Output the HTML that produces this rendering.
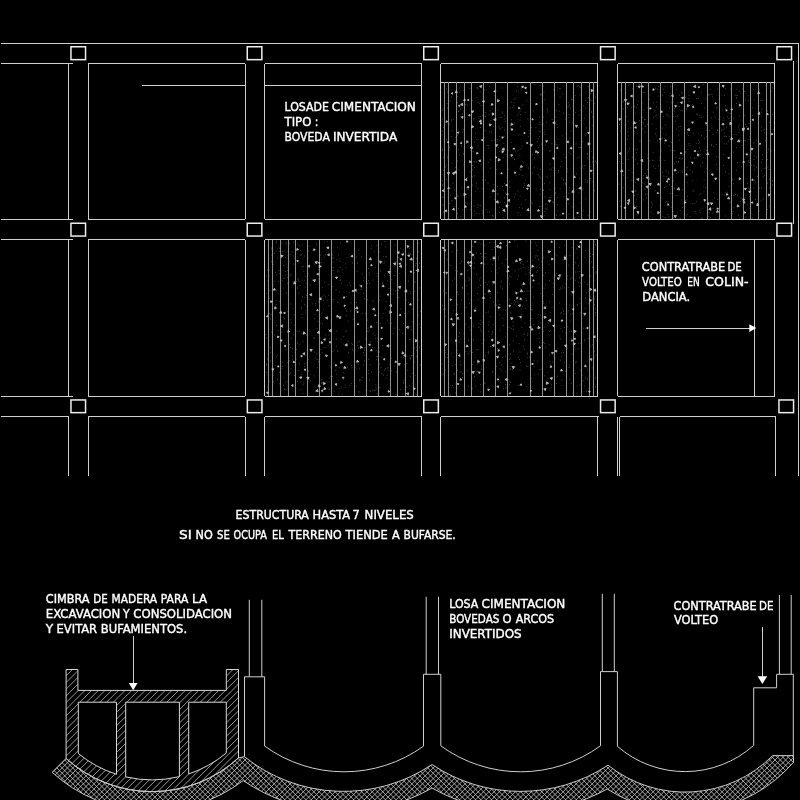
<!DOCTYPE html>
<html lang="es"><head><meta charset="utf-8"><title>Losa de cimentacion - boveda invertida</title>
<style>
html,body{margin:0;padding:0;background:#000;}
body{width:800px;height:800px;overflow:hidden;}
svg{display:block;}
line.l,line.h{shape-rendering:crispEdges;}
.l{stroke:#cfcfcf;stroke-width:1;fill:none;}
.h{stroke:#8e8e8e;stroke-width:1;fill:none;}
.sq{stroke:#ededed;stroke-width:1.5;fill:none;}
.tri{fill:#999;stroke:#e8e8e8;stroke-width:.6;}
.dot{stroke:#7c7c7c;stroke-width:.7;fill:none;}
.ah{fill:#fff;stroke:none;}
.wood{fill:none;stroke:#d8d8d8;stroke-width:1;}
.hw{stroke:#b0b0b0;stroke-width:.85;fill:none;}
.hs{stroke:#c8c8c8;stroke-width:.8;fill:none;}
.soil{fill:none;stroke:#c8c8c8;stroke-width:1;}
text{font-family:"DejaVu Sans Condensed","Liberation Sans",sans-serif;font-size:13px;fill:#fff;stroke:#fff;stroke-width:.4;}
</style></head><body>
<svg width="800" height="800" viewBox="0 0 800 800">
<rect width="800" height="800" fill="#000"/>
<line class="l" x1="1" y1="43.5" x2="798.75" y2="43.5"/>
<line class="l" x1="798.75" y1="43.5" x2="798.75" y2="476"/>
<line class="l" x1="1" y1="63.5" x2="73" y2="63.5"/>
<line class="l" x1="88" y1="63.5" x2="245" y2="63.5"/>
<line class="l" x1="264.5" y1="63.5" x2="421.5" y2="63.5"/>
<line class="l" x1="440.5" y1="63.5" x2="597.5" y2="63.5"/>
<line class="l" x1="617.5" y1="63.5" x2="774.75" y2="63.5"/>
<line class="l" x1="1" y1="219.4" x2="73" y2="219.4"/>
<line class="l" x1="88" y1="219.4" x2="245" y2="219.4"/>
<line class="l" x1="264.5" y1="219.4" x2="421.5" y2="219.4"/>
<line class="l" x1="440.5" y1="219.4" x2="597.5" y2="219.4"/>
<line class="l" x1="617.5" y1="219.4" x2="774.75" y2="219.4"/>
<line class="l" x1="1" y1="239.5" x2="73" y2="239.5"/>
<line class="l" x1="88" y1="239.5" x2="245" y2="239.5"/>
<line class="l" x1="264.5" y1="239.5" x2="421.5" y2="239.5"/>
<line class="l" x1="440.5" y1="239.5" x2="597.5" y2="239.5"/>
<line class="l" x1="617.5" y1="239.5" x2="774.75" y2="239.5"/>
<line class="l" x1="1" y1="396.4" x2="73" y2="396.4"/>
<line class="l" x1="88" y1="396.4" x2="245" y2="396.4"/>
<line class="l" x1="264.5" y1="396.4" x2="421.5" y2="396.4"/>
<line class="l" x1="440.5" y1="396.4" x2="597.5" y2="396.4"/>
<line class="l" x1="617.5" y1="396.4" x2="774.75" y2="396.4"/>
<line class="l" x1="1" y1="416.5" x2="69" y2="416.5"/>
<line class="l" x1="88" y1="416.5" x2="245" y2="416.5"/>
<line class="l" x1="264.5" y1="416.5" x2="421.5" y2="416.5"/>
<line class="l" x1="440.5" y1="416.5" x2="598.5" y2="416.5"/>
<line class="l" x1="619.5" y1="416.5" x2="775.6" y2="416.5"/>
<line class="l" x1="68.5" y1="63.5" x2="68.5" y2="219.4"/>
<line class="l" x1="68.5" y1="239.5" x2="68.5" y2="396.4"/>
<line class="l" x1="68.5" y1="416.5" x2="68.5" y2="475.8"/>
<line class="l" x1="88" y1="63.5" x2="88" y2="219.4"/>
<line class="l" x1="88" y1="239.5" x2="88" y2="396.4"/>
<line class="l" x1="88" y1="416.5" x2="88" y2="475.8"/>
<line class="l" x1="245" y1="63.5" x2="245" y2="219.4"/>
<line class="l" x1="245" y1="239.5" x2="245" y2="396.4"/>
<line class="l" x1="245" y1="416.5" x2="245" y2="475.8"/>
<line class="l" x1="264.5" y1="63.5" x2="264.5" y2="219.4"/>
<line class="l" x1="264.5" y1="239.5" x2="264.5" y2="396.4"/>
<line class="l" x1="264.5" y1="416.5" x2="264.5" y2="475.8"/>
<line class="l" x1="421.5" y1="63.5" x2="421.5" y2="219.4"/>
<line class="l" x1="421.5" y1="239.5" x2="421.5" y2="396.4"/>
<line class="l" x1="421.5" y1="416.5" x2="421.5" y2="475.8"/>
<line class="l" x1="440.5" y1="63.5" x2="440.5" y2="219.4"/>
<line class="l" x1="440.5" y1="239.5" x2="440.5" y2="396.4"/>
<line class="l" x1="440.5" y1="416.5" x2="440.5" y2="475.8"/>
<line class="l" x1="597.5" y1="63.5" x2="597.5" y2="219.4"/>
<line class="l" x1="597.5" y1="239.5" x2="597.5" y2="396.4"/>
<line class="l" x1="597.5" y1="416.5" x2="597.5" y2="475.8"/>
<line class="l" x1="617.5" y1="63.5" x2="617.5" y2="219.4"/>
<line class="l" x1="617.5" y1="239.5" x2="617.5" y2="396.4"/>
<line class="l" x1="617.5" y1="416.5" x2="617.5" y2="475.8"/>
<line class="l" x1="774.75" y1="63.5" x2="774.75" y2="219.4"/>
<line class="l" x1="774.75" y1="239.5" x2="774.75" y2="396.4"/>
<line class="l" x1="619.5" y1="416.5" x2="619.5" y2="475.8"/>
<line class="l" x1="775.6" y1="416.5" x2="775.6" y2="476"/>
<line class="l" x1="793.75" y1="61" x2="793.75" y2="223.5"/>
<line class="l" x1="754.4" y1="239.5" x2="754.4" y2="396.4"/>
<line class="l" x1="142" y1="85.8" x2="245" y2="85.8"/>
<line class="l" x1="264.5" y1="85.8" x2="421.5" y2="85.8"/>
<rect class="sq" x="70.95" y="46.75" width="14.6" height="12.9"/>
<rect class="sq" x="247.25" y="46.75" width="14.6" height="12.9"/>
<rect class="sq" x="423.75" y="46.75" width="14.6" height="12.9"/>
<rect class="sq" x="600.55" y="46.75" width="14.6" height="12.9"/>
<rect class="sq" x="776.95" y="46.75" width="14.6" height="12.9"/>
<rect class="sq" x="70.95" y="223.25" width="14.6" height="12.8"/>
<rect class="sq" x="247.25" y="223.25" width="14.6" height="12.8"/>
<rect class="sq" x="423.75" y="223.25" width="14.6" height="12.8"/>
<rect class="sq" x="600.55" y="223.25" width="14.6" height="12.8"/>
<rect class="sq" x="776.95" y="223.25" width="14.6" height="12.8"/>
<rect class="sq" x="70.95" y="399.95" width="14.6" height="12.7"/>
<rect class="sq" x="247.35" y="399.95" width="14.6" height="12.7"/>
<rect class="sq" x="423.75" y="399.95" width="14.6" height="12.7"/>
<rect class="sq" x="600.55" y="399.95" width="14.6" height="12.7"/>
<rect class="sq" x="778.95" y="399.95" width="14.6" height="12.7"/>
<line class="l" x1="440.5" y1="82.4" x2="597.5" y2="82.4"/>
<line class="l" x1="617.5" y1="82.4" x2="774.75" y2="82.4"/>
<line class="h" x1="444.5" y1="82.4" x2="444.5" y2="219.4"/>
<line class="h" x1="448.5" y1="82.4" x2="448.5" y2="219.4"/>
<line class="h" x1="456.5" y1="82.4" x2="456.5" y2="219.4"/>
<line class="h" x1="464.5" y1="82.4" x2="464.5" y2="219.4"/>
<line class="h" x1="471.8" y1="82.4" x2="471.8" y2="219.4"/>
<line class="h" x1="483.7" y1="82.4" x2="483.7" y2="219.4"/>
<line class="h" x1="495.5" y1="82.4" x2="495.5" y2="219.4"/>
<line class="h" x1="507.8" y1="82.4" x2="507.8" y2="219.4"/>
<line class="h" x1="530.2" y1="82.4" x2="530.2" y2="219.4"/>
<line class="h" x1="542.3" y1="82.4" x2="542.3" y2="219.4"/>
<line class="h" x1="554.3" y1="82.4" x2="554.3" y2="219.4"/>
<line class="h" x1="566.2" y1="82.4" x2="566.2" y2="219.4"/>
<line class="h" x1="573.5" y1="82.4" x2="573.5" y2="219.4"/>
<line class="h" x1="581.5" y1="82.4" x2="581.5" y2="219.4"/>
<line class="h" x1="589.5" y1="82.4" x2="589.5" y2="219.4"/>
<line class="h" x1="593.5" y1="82.4" x2="593.5" y2="219.4"/>
<g class="tri"><polygon points="493.2,105.0 491.0,105.2 492.0,103.2"/><polygon points="523.6,133.0 525.0,132.2 524.9,133.9"/><polygon points="449.0,142.6 447.4,142.5 448.3,141.1"/><polygon points="507.6,195.3 506.5,194.0 508.2,193.7"/><polygon points="537.5,211.2 538.3,209.2 539.6,210.9"/><polygon points="591.5,92.0 590.9,89.6 593.2,90.2"/><polygon points="465.0,99.1 465.2,100.9 463.5,100.2"/><polygon points="469.3,162.7 469.8,160.5 471.4,162.1"/><polygon points="526.6,93.7 525.4,92.5 527.0,92.1"/><polygon points="545.7,140.7 547.6,140.7 546.6,142.4"/><polygon points="511.4,123.0 513.2,124.5 510.9,125.3"/><polygon points="480.7,159.9 480.2,162.0 478.7,160.5"/><polygon points="555.2,123.7 552.7,123.1 554.4,121.2"/><polygon points="505.5,185.2 506.9,184.2 507.0,185.9"/><polygon points="447.3,172.7 449.6,172.5 448.6,174.6"/><polygon points="575.4,125.4 577.6,125.5 576.4,127.4"/><polygon points="532.5,144.6 531.0,146.5 530.1,144.2"/><polygon points="514.8,171.8 516.0,172.9 514.4,173.4"/><polygon points="541.2,217.8 540.5,215.5 542.8,216.1"/><polygon points="500.6,173.5 501.8,172.5 502.2,174.0"/><polygon points="468.3,99.0 469.0,100.5 467.4,100.3"/><polygon points="463.1,116.5 462.6,118.4 461.2,117.1"/><polygon points="455.7,143.3 455.1,145.3 453.7,143.8"/><polygon points="566.9,199.9 567.8,198.2 568.8,199.8"/><polygon points="498.3,203.2 495.9,202.1 498.0,200.7"/><polygon points="468.4,115.3 469.9,114.3 470.1,116.1"/><polygon points="531.8,119.8 532.6,118.4 533.4,119.8"/><polygon points="498.5,158.4 500.5,159.9 498.1,160.9"/><polygon points="522.6,167.0 520.4,167.4 521.1,165.3"/><polygon points="580.5,186.8 581.1,189.2 578.7,188.5"/><polygon points="501.9,136.7 503.5,137.3 502.2,138.4"/><polygon points="452.6,94.2 451.0,93.4 452.5,92.5"/><polygon points="495.1,92.1 493.6,91.5 494.9,90.6"/><polygon points="458.7,132.1 458.3,133.6 457.1,132.5"/><polygon points="535.8,105.0 536.0,103.2 537.5,104.2"/><polygon points="499.6,100.7 497.6,102.0 497.5,99.6"/><polygon points="514.6,149.3 512.9,149.1 513.9,147.8"/><polygon points="495.7,120.8 493.5,119.7 495.6,118.4"/><polygon points="446.8,211.8 444.8,211.0 446.5,209.8"/><polygon points="526.8,87.8 525.1,89.1 524.9,87.0"/><polygon points="573.9,177.8 574.3,176.0 575.6,177.2"/><polygon points="468.3,185.9 469.0,187.9 466.9,187.5"/><polygon points="494.3,113.9 492.4,115.3 492.1,112.9"/><polygon points="572.9,190.2 574.2,192.2 571.8,192.4"/><polygon points="478.3,153.4 476.5,154.1 476.8,152.2"/><polygon points="446.4,120.6 447.8,121.7 446.1,122.4"/><polygon points="590.3,143.8 588.2,145.2 588.0,142.7"/><polygon points="588.8,133.9 587.7,132.5 589.4,132.3"/><polygon points="473.6,110.8 472.7,112.8 471.4,111.1"/><polygon points="571.5,146.9 572.0,149.1 569.8,148.4"/><polygon points="455.8,170.8 456.6,173.2 454.1,172.7"/><polygon points="557.5,147.0 558.0,148.7 556.3,148.3"/><polygon points="492.2,191.8 493.2,189.4 494.7,191.5"/><polygon points="504.6,211.5 502.6,210.3 504.6,209.2"/><polygon points="462.4,103.1 462.9,105.6 460.5,104.7"/><polygon points="464.0,193.1 466.4,194.2 464.2,195.7"/><polygon points="497.1,157.5 495.5,158.2 495.7,156.5"/><polygon points="592.2,170.3 590.9,172.0 590.1,170.1"/><polygon points="509.2,201.7 507.5,200.0 509.9,199.4"/><polygon points="480.1,122.8 481.9,122.9 481.0,124.4"/><polygon points="483.0,139.6 482.2,141.1 481.3,139.7"/><polygon points="497.7,144.6 496.7,146.6 495.5,144.8"/><polygon points="505.7,206.2 507.6,205.6 507.2,207.6"/><polygon points="523.1,88.0 521.4,86.8 523.3,85.9"/><polygon points="442.1,190.9 443.5,189.7 443.7,191.5"/><polygon points="552.4,158.3 554.1,157.5 553.9,159.4"/><polygon points="526.6,188.4 528.2,188.1 527.6,189.7"/><polygon points="479.2,121.2 481.3,120.1 481.1,122.4"/><polygon points="527.1,186.0 528.7,184.1 529.6,186.4"/><polygon points="535.8,150.5 537.4,151.8 535.5,152.6"/><polygon points="512.8,154.9 511.5,156.5 510.8,154.6"/><polygon points="549.4,202.4 548.3,200.2 550.8,200.3"/><polygon points="529.0,210.9 526.7,210.1 528.6,208.5"/><polygon points="461.2,144.1 460.3,142.8 461.9,142.7"/><polygon points="454.8,172.6 453.9,174.8 452.4,172.9"/><polygon points="466.9,180.7 464.8,179.8 466.6,178.4"/><polygon points="578.6,212.8 577.3,214.1 576.8,212.4"/><polygon points="504.2,147.9 504.2,150.5 501.9,149.2"/><polygon points="466.6,142.8 466.6,140.7 468.4,141.8"/><polygon points="473.8,126.9 471.6,127.8 471.9,125.5"/><polygon points="526.8,143.8 526.8,142.2 528.2,143.0"/><polygon points="538.9,152.4 537.6,153.4 537.4,151.8"/><polygon points="563.0,214.6 562.3,213.1 564.0,213.2"/><polygon points="449.3,188.8 447.5,188.3 448.9,187.0"/><polygon points="507.0,207.0 505.9,204.9 508.3,205.0"/><polygon points="465.0,205.5 466.6,206.9 464.5,207.6"/><polygon points="455.0,92.6 456.3,90.7 457.3,92.8"/><polygon points="454.0,208.0 454.4,210.2 452.3,209.5"/><polygon points="455.9,197.6 455.6,199.2 454.4,198.1"/><polygon points="513.0,129.0 511.9,130.7 510.9,128.8"/><polygon points="483.6,102.8 482.4,101.1 484.5,100.9"/><polygon points="459.5,106.8 458.3,105.7 459.9,105.2"/><polygon points="489.9,126.3 489.3,124.0 491.5,124.6"/><polygon points="520.1,108.2 518.4,109.0 518.6,107.0"/><polygon points="479.5,86.0 481.8,85.5 481.1,87.8"/><polygon points="472.6,148.4 470.1,148.1 471.7,146.1"/><polygon points="568.4,140.8 568.4,142.9 566.6,141.9"/><polygon points="503.9,151.6 502.1,153.0 501.9,150.7"/></g>
<path class="dot" d="M494.6 195.8h.7M551.0 169.3h.7M504.2 130.3h.7M449.9 100.9h.7M452.5 183.4h.7M481.1 105.4h.7M454.6 197.0h.7M576.4 173.9h.7M485.2 116.1h.7M486.9 145.4h.7M465.9 143.6h.7M482.3 213.2h.7M592.3 157.3h.7M479.4 213.8h.7M489.5 131.5h.7M441.7 134.9h.7M515.1 151.3h.7M472.7 151.5h.7M442.3 119.1h.7M455.4 137.3h.7M448.0 86.4h.7M488.7 114.8h.7M532.3 154.8h.7M557.8 172.2h.7M552.5 202.1h.7M501.9 127.4h.7M594.1 103.6h.7M553.7 170.2h.7M448.3 196.2h.7M579.8 168.1h.7M555.2 193.0h.7M463.1 154.1h.7M519.7 196.1h.7M566.2 195.0h.7M532.0 203.9h.7M547.3 177.0h.7M477.1 87.6h.7M462.1 132.1h.7M457.8 196.2h.7M528.1 168.1h.7M538.6 175.3h.7M517.3 83.8h.7M565.1 184.4h.7M519.5 155.7h.7M543.7 92.3h.7M555.7 117.4h.7M453.0 119.3h.7M554.5 111.1h.7M556.2 215.1h.7M518.1 135.0h.7M515.7 175.7h.7M560.4 166.7h.7M541.1 93.9h.7M464.4 117.7h.7M556.7 124.5h.7M529.5 85.1h.7M450.9 119.7h.7M545.7 176.8h.7M546.2 122.7h.7M521.6 146.1h.7M513.8 99.4h.7M580.0 110.3h.7M593.1 209.8h.7M444.2 145.4h.7M568.6 214.1h.7M511.2 119.7h.7M474.0 211.1h.7M474.2 161.9h.7M463.5 154.1h.7M589.2 101.3h.7M568.6 152.1h.7M579.0 178.4h.7M477.4 204.6h.7M516.9 86.8h.7M442.1 149.8h.7M511.4 124.2h.7M463.3 129.8h.7M490.5 196.8h.7M441.8 184.7h.7M571.6 99.6h.7M585.1 179.7h.7M581.2 122.5h.7M499.2 136.4h.7M596.3 162.9h.7M497.4 141.2h.7M484.1 89.9h.7M457.3 196.1h.7M485.8 209.7h.7M480.1 119.3h.7M520.7 109.0h.7M499.4 212.5h.7M578.6 193.0h.7M539.3 206.7h.7M587.3 157.5h.7M553.0 90.1h.7M555.0 144.3h.7M558.2 170.4h.7M485.9 90.0h.7M585.2 100.6h.7M514.7 129.8h.7M487.7 183.2h.7M592.8 118.5h.7M543.2 124.0h.7M527.9 136.6h.7M467.4 105.2h.7M473.7 205.7h.7M518.5 113.1h.7M582.0 217.9h.7M511.2 102.2h.7M471.3 95.6h.7M494.5 95.7h.7M478.6 118.3h.7M529.8 203.2h.7M557.7 139.1h.7M505.7 154.2h.7M499.9 129.1h.7M451.1 120.9h.7M591.5 100.4h.7M519.5 168.4h.7M575.2 112.6h.7M483.5 116.9h.7M503.5 143.6h.7M589.4 198.0h.7M576.8 86.3h.7M446.5 179.2h.7M580.3 147.3h.7M532.5 83.4h.7M502.2 208.5h.7M569.5 198.9h.7M592.2 116.9h.7M458.4 104.2h.7M522.5 175.5h.7M587.4 180.8h.7M541.8 186.6h.7M512.4 157.9h.7M447.6 189.0h.7M477.5 207.6h.7M541.6 124.4h.7M461.3 117.4h.7M540.1 177.7h.7M458.9 92.9h.7M522.8 162.1h.7M501.7 113.6h.7M534.7 84.8h.7M488.2 145.6h.7M590.1 170.4h.7M578.5 147.6h.7M477.9 116.8h.7M590.4 178.5h.7M489.1 86.3h.7M518.7 174.5h.7M506.6 118.1h.7M544.9 208.3h.7M476.7 88.0h.7M493.9 140.2h.7M547.3 110.1h.7M565.0 183.2h.7M519.8 111.1h.7M591.8 125.5h.7M568.6 114.6h.7M475.8 186.1h.7M487.2 211.9h.7M518.3 108.7h.7M476.1 139.7h.7M544.6 211.5h.7M464.2 136.5h.7M474.5 214.9h.7M463.5 90.4h.7M450.8 136.5h.7M580.7 202.7h.7M555.1 218.1h.7M585.9 127.8h.7M470.3 209.7h.7M557.2 87.7h.7M544.5 134.5h.7M499.5 128.2h.7M467.7 83.8h.7M484.9 130.8h.7M589.6 100.1h.7M591.0 111.4h.7M496.8 194.3h.7M568.9 141.8h.7M449.1 147.3h.7M499.3 207.5h.7M471.4 132.6h.7M580.5 87.5h.7M505.2 193.0h.7M560.3 88.9h.7M446.9 91.8h.7M584.1 118.1h.7M557.3 204.7h.7M494.1 120.2h.7M589.9 166.7h.7M482.1 180.1h.7M490.6 120.6h.7M442.1 185.4h.7M583.6 169.0h.7M587.7 86.7h.7M477.7 147.6h.7M589.8 212.2h.7M501.4 117.3h.7M508.1 150.0h.7M585.4 108.1h.7M565.9 183.1h.7M569.0 187.7h.7M535.6 127.7h.7M491.0 132.3h.7M562.7 94.1h.7M472.1 185.0h.7M479.8 92.1h.7M446.7 158.0h.7M492.0 215.7h.7M578.4 216.8h.7M482.6 94.8h.7M456.4 150.7h.7M551.5 143.7h.7M477.8 139.7h.7M537.6 174.4h.7M557.4 197.7h.7M544.5 99.8h.7M571.8 123.1h.7M529.4 133.8h.7M555.9 110.3h.7M479.9 116.5h.7M465.3 202.8h.7M531.1 127.5h.7M502.9 217.4h.7M520.1 114.6h.7M566.8 171.6h.7M595.1 97.2h.7M515.1 194.0h.7M571.8 206.8h.7M447.8 123.0h.7M460.0 109.0h.7M592.3 162.1h.7M585.7 133.7h.7M575.7 144.0h.7M481.8 188.4h.7M588.1 97.7h.7M533.9 167.1h.7M475.2 133.2h.7M463.4 110.9h.7M481.0 164.3h.7M542.5 110.9h.7M443.3 127.6h.7M546.6 108.4h.7M489.9 110.9h.7M564.8 157.4h.7M451.3 97.1h.7M502.8 157.7h.7M540.6 95.7h.7M466.9 177.3h.7M505.0 121.6h.7M489.2 212.1h.7M489.9 159.9h.7M496.9 139.6h.7M575.5 217.9h.7M497.9 110.0h.7M554.3 110.9h.7M442.4 205.1h.7M507.2 194.1h.7M504.5 202.6h.7M512.9 105.3h.7M443.8 157.9h.7M540.8 206.2h.7M455.3 167.4h.7M499.0 151.5h.7M464.1 121.6h.7M522.3 208.3h.7M458.4 149.6h.7M566.2 213.9h.7M472.1 100.5h.7M587.7 215.1h.7M516.3 90.6h.7M585.1 135.8h.7M581.7 167.1h.7M569.3 105.0h.7M563.3 113.4h.7M504.2 197.7h.7M570.0 108.1h.7M475.3 137.4h.7M521.8 135.2h.7M460.6 116.8h.7M553.9 204.5h.7M447.9 159.3h.7M558.9 88.5h.7M571.4 99.3h.7M534.4 157.7h.7M538.7 124.7h.7M506.6 162.1h.7M507.5 172.3h.7M510.8 142.6h.7M445.1 167.0h.7M517.4 115.2h.7M559.9 188.7h.7M512.5 107.6h.7M514.8 97.9h.7M461.4 141.5h.7M455.7 143.1h.7M520.6 88.9h.7M540.1 94.5h.7M555.2 188.4h.7M520.8 90.7h.7M519.6 134.4h.7M588.9 101.8h.7M574.3 217.9h.7M555.0 193.4h.7M471.5 215.9h.7M517.7 212.5h.7M583.5 105.7h.7M563.7 209.0h.7M451.7 130.8h.7M558.7 104.8h.7M580.5 120.5h.7M567.9 102.8h.7M519.3 207.6h.7M473.8 118.9h.7M519.9 126.5h.7M447.2 108.0h.7M466.5 209.8h.7M546.9 204.3h.7M467.7 189.4h.7M459.3 155.0h.7M540.1 132.0h.7M576.8 158.3h.7M531.4 202.5h.7M457.7 217.4h.7M539.1 136.6h.7M565.1 119.1h.7M595.0 161.3h.7M497.3 186.6h.7M510.1 107.3h.7M556.8 89.9h.7M568.6 117.6h.7M540.6 216.2h.7M532.3 173.0h.7M490.0 83.6h.7M446.7 103.6h.7M537.0 141.8h.7M521.0 204.3h.7M462.0 114.1h.7M542.7 86.4h.7M441.9 131.3h.7M458.0 131.6h.7M476.3 162.2h.7M532.8 111.0h.7M538.2 147.5h.7M462.4 209.8h.7M479.3 103.6h.7M456.3 169.6h.7M576.5 189.0h.7M503.8 119.1h.7M443.3 170.5h.7M528.7 130.7h.7M541.6 143.3h.7M586.8 182.4h.7M480.0 205.4h.7M448.3 155.2h.7M504.4 115.5h.7M450.5 188.5h.7M443.4 157.8h.7M587.3 102.6h.7M472.4 165.5h.7M520.1 170.0h.7M567.6 107.0h.7M489.5 123.9h.7M449.0 203.5h.7M562.9 180.0h.7M442.5 197.4h.7M557.0 146.2h.7M556.5 144.5h.7M476.5 97.6h.7M477.5 88.6h.7M493.5 184.6h.7M549.2 197.5h.7M551.8 119.3h.7M527.3 142.3h.7M563.7 154.0h.7M482.6 170.1h.7M591.1 112.7h.7M577.9 85.5h.7M481.9 115.3h.7M556.8 210.9h.7M557.2 127.5h.7M577.9 127.8h.7M478.6 205.9h.7M539.3 176.9h.7M544.6 215.6h.7M514.3 196.8h.7M549.6 199.2h.7M509.3 181.2h.7M529.9 124.9h.7M474.4 167.5h.7M453.6 206.4h.7M463.9 87.0h.7M458.0 208.8h.7M495.0 102.5h.7M446.0 89.0h.7M548.9 169.0h.7M549.5 182.9h.7M451.7 163.1h.7M497.8 193.8h.7M568.5 203.7h.7M451.7 200.6h.7M583.2 210.9h.7M458.1 111.2h.7M458.9 88.0h.7M572.9 193.0h.7M539.8 194.8h.7M539.4 122.2h.7M457.0 96.6h.7M558.9 111.1h.7M491.0 140.6h.7M444.7 118.1h.7M485.3 180.0h.7M498.5 126.7h.7M590.9 151.4h.7M573.5 166.9h.7M446.3 139.1h.7M509.1 187.8h.7M495.3 178.5h.7M524.9 112.6h.7M575.1 95.7h.7M568.6 106.4h.7M441.7 110.7h.7M559.6 215.4h.7M442.2 149.7h.7M517.7 191.0h.7M470.1 150.2h.7M495.3 195.7h.7M481.9 210.8h.7M485.5 112.4h.7M549.9 150.7h.7M458.5 169.3h.7M454.0 189.8h.7M549.6 189.6h.7M538.8 131.4h.7M503.7 136.7h.7M579.5 95.0h.7M579.2 86.8h.7M473.4 118.9h.7M581.2 151.1h.7M500.3 202.7h.7M477.7 145.6h.7M523.9 185.3h.7M558.2 170.7h.7M495.5 127.5h.7M465.6 197.2h.7M544.1 183.6h.7M467.8 142.6h.7M561.4 161.6h.7M461.0 145.8h.7M578.7 115.5h.7M471.2 124.1h.7M550.5 197.3h.7M465.5 104.5h.7M479.9 127.5h.7M522.4 105.1h.7M492.4 109.0h.7M592.6 181.8h.7M457.3 213.3h.7M457.3 135.3h.7M594.0 190.7h.7M555.2 142.1h.7M471.9 169.5h.7M458.1 111.3h.7M501.7 88.0h.7M503.3 190.2h.7M549.0 151.0h.7M539.5 145.9h.7M463.5 164.9h.7M504.2 183.4h.7M582.2 141.5h.7M530.5 184.5h.7M506.8 114.3h.7M553.4 202.2h.7M561.5 177.9h.7M573.6 175.1h.7M540.9 144.7h.7M490.0 168.2h.7M456.7 140.0h.7M562.8 179.7h.7M539.1 117.2h.7M507.2 144.9h.7M537.8 138.7h.7M546.2 209.0h.7M469.9 171.8h.7M562.1 135.9h.7M517.4 215.0h.7M447.4 156.8h.7M466.4 188.9h.7M587.3 153.5h.7M457.2 161.0h.7M525.4 180.2h.7M520.9 169.7h.7M570.0 153.8h.7M505.1 211.4h.7M474.1 175.8h.7M502.3 186.4h.7M460.5 216.3h.7M496.6 91.0h.7M484.0 137.4h.7M443.6 139.9h.7M506.7 177.7h.7M496.1 119.2h.7M476.3 183.5h.7M587.2 154.6h.7M475.4 191.6h.7M502.3 112.0h.7M461.5 188.2h.7M567.0 169.0h.7M514.2 159.3h.7M476.5 213.5h.7M496.2 169.6h.7M568.4 193.6h.7M514.1 123.1h.7M526.5 100.3h.7M570.7 131.3h.7M573.4 119.5h.7M499.8 117.6h.7M507.5 108.5h.7M441.9 180.8h.7M485.1 116.5h.7M488.3 148.1h.7M507.9 169.4h.7M543.7 132.3h.7M585.5 198.8h.7M450.3 195.2h.7M581.9 189.2h.7M463.3 195.6h.7M539.6 85.4h.7M443.3 211.9h.7M543.2 117.2h.7M457.2 102.7h.7M477.7 188.2h.7M495.2 104.0h.7M581.6 190.3h.7M467.5 203.7h.7M535.8 188.9h.7M545.1 204.1h.7M563.7 196.6h.7M472.1 176.9h.7M523.8 183.6h.7M509.5 202.6h.7M527.5 119.1h.7M477.8 102.2h.7M517.9 91.3h.7M513.9 102.9h.7M517.7 150.7h.7M525.1 199.9h.7M442.5 196.9h.7M514.0 159.3h.7M544.6 196.9h.7M499.6 139.9h.7M590.4 93.6h.7M540.2 169.3h.7M445.9 165.7h.7M547.3 209.2h.7M492.7 215.9h.7M520.6 148.8h.7M580.6 88.0h.7M552.8 167.8h.7M494.0 199.7h.7M498.3 147.5h.7M523.0 187.4h.7M474.2 142.2h.7M507.0 158.2h.7M569.6 122.9h.7M569.8 137.9h.7M519.6 120.1h.7M520.0 215.0h.7M543.0 190.3h.7M492.8 126.2h.7M487.9 162.6h.7M539.9 189.3h.7M447.7 181.0h.7M578.8 157.0h.7M449.2 124.0h.7M442.5 109.0h.7M584.3 165.6h.7M543.5 189.9h.7M582.5 166.0h.7M537.1 168.0h.7M549.4 163.9h.7M547.1 112.1h.7M544.9 145.2h.7M559.7 97.1h.7M469.6 88.4h.7"/>
<line class="h" x1="621.5" y1="82.4" x2="621.5" y2="219.4"/>
<line class="h" x1="625.5" y1="82.4" x2="625.5" y2="219.4"/>
<line class="h" x1="633.5" y1="82.4" x2="633.5" y2="219.4"/>
<line class="h" x1="641.5" y1="82.4" x2="641.5" y2="219.4"/>
<line class="h" x1="648.8" y1="82.4" x2="648.8" y2="219.4"/>
<line class="h" x1="660.7" y1="82.4" x2="660.7" y2="219.4"/>
<line class="h" x1="672.5" y1="82.4" x2="672.5" y2="219.4"/>
<line class="h" x1="684.8" y1="82.4" x2="684.8" y2="219.4"/>
<line class="h" x1="707.2" y1="82.4" x2="707.2" y2="219.4"/>
<line class="h" x1="719.3" y1="82.4" x2="719.3" y2="219.4"/>
<line class="h" x1="731.3" y1="82.4" x2="731.3" y2="219.4"/>
<line class="h" x1="743.2" y1="82.4" x2="743.2" y2="219.4"/>
<line class="h" x1="750.5" y1="82.4" x2="750.5" y2="219.4"/>
<line class="h" x1="758.5" y1="82.4" x2="758.5" y2="219.4"/>
<line class="h" x1="766.5" y1="82.4" x2="766.5" y2="219.4"/>
<line class="h" x1="770.5" y1="82.4" x2="770.5" y2="219.4"/>
<g class="tri"><polygon points="737.1,206.9 737.6,204.7 739.3,206.3"/><polygon points="745.3,190.2 744.3,188.3 746.5,188.4"/><polygon points="664.7,141.0 665.8,139.4 666.6,141.1"/><polygon points="716.8,208.2 718.4,208.1 717.8,209.5"/><polygon points="624.3,99.6 626.7,99.5 625.6,101.6"/><polygon points="759.4,144.4 759.9,142.9 760.9,144.1"/><polygon points="708.6,209.3 710.6,207.7 711.0,210.3"/><polygon points="682.9,99.2 681.4,97.6 683.5,97.1"/><polygon points="642.4,85.6 643.6,86.6 642.2,87.2"/><polygon points="638.8,212.2 638.4,213.8 637.2,212.7"/><polygon points="639.3,88.1 638.0,86.2 640.4,86.0"/><polygon points="731.9,108.4 732.5,109.9 730.9,109.7"/><polygon points="729.8,198.9 727.5,198.8 728.7,196.8"/><polygon points="716.7,178.2 715.6,179.9 714.7,178.0"/><polygon points="659.7,212.7 657.6,213.8 657.8,211.5"/><polygon points="623.0,171.6 620.6,171.7 621.7,169.6"/><polygon points="667.7,180.6 667.4,182.4 666.1,181.2"/><polygon points="692.9,91.8 694.8,91.7 694.0,93.5"/><polygon points="686.9,173.5 687.3,175.1 685.7,174.6"/><polygon points="674.0,170.8 675.1,168.9 676.2,170.8"/><polygon points="678.8,187.5 679.6,190.0 677.1,189.4"/><polygon points="707.1,123.1 705.9,124.2 705.6,122.6"/><polygon points="726.2,193.8 728.1,194.0 726.9,195.5"/><polygon points="768.6,196.1 768.3,194.0 770.3,194.8"/><polygon points="684.6,201.5 686.2,202.6 684.4,203.4"/><polygon points="711.3,204.9 710.5,202.7 712.9,203.2"/><polygon points="618.8,118.8 620.8,118.8 619.7,120.5"/><polygon points="744.8,201.6 744.8,203.2 743.4,202.4"/><polygon points="743.5,201.0 742.7,199.0 744.9,199.3"/><polygon points="750.9,191.1 749.8,193.0 748.6,191.1"/><polygon points="672.9,94.5 673.4,96.6 671.4,96.0"/><polygon points="650.3,185.6 648.8,183.6 651.3,183.3"/><polygon points="712.7,175.7 711.2,174.2 713.2,173.7"/><polygon points="657.1,184.6 658.8,183.0 659.4,185.3"/><polygon points="633.1,193.0 631.7,191.1 634.0,190.9"/><polygon points="706.8,203.5 709.1,202.6 708.7,205.0"/><polygon points="692.8,163.7 691.4,162.6 693.1,162.0"/><polygon points="646.1,177.2 648.0,177.0 647.3,178.8"/><polygon points="682.0,153.5 680.4,153.9 680.8,152.2"/><polygon points="771.4,133.4 773.0,133.9 771.8,135.1"/><polygon points="739.3,106.2 739.4,104.0 741.2,105.3"/><polygon points="699.9,87.1 698.6,88.0 698.5,86.4"/><polygon points="751.9,150.3 751.0,148.4 753.1,148.5"/><polygon points="738.9,139.6 739.9,141.9 737.4,141.6"/><polygon points="745.8,212.8 744.1,213.3 744.5,211.5"/><polygon points="651.2,108.7 649.5,109.1 650.1,107.5"/><polygon points="705.9,199.8 704.6,201.4 703.9,199.4"/><polygon points="757.7,93.7 758.6,91.7 759.9,93.4"/><polygon points="636.9,211.6 638.7,211.4 638.0,213.0"/><polygon points="716.5,212.4 717.3,210.3 718.7,212.1"/><polygon points="689.6,105.6 687.4,107.0 687.3,104.4"/><polygon points="652.8,90.4 653.0,88.6 654.5,89.7"/><polygon points="759.0,205.1 756.6,205.7 757.3,203.3"/><polygon points="741.1,178.7 739.3,179.9 739.1,177.7"/><polygon points="629.3,103.2 627.8,105.0 627.0,102.8"/><polygon points="723.1,122.9 724.1,124.8 721.9,124.7"/><polygon points="636.4,128.2 634.6,127.8 635.9,126.5"/><polygon points="693.8,107.6 692.1,107.0 693.5,105.9"/><polygon points="723.6,87.3 721.9,85.8 724.0,85.1"/><polygon points="626.0,207.4 624.9,208.8 624.2,207.2"/><polygon points="751.2,202.9 752.3,201.6 752.9,203.2"/><polygon points="633.4,206.9 635.7,207.6 634.0,209.3"/><polygon points="687.3,129.8 689.2,128.3 689.6,130.7"/><polygon points="716.6,103.7 714.8,104.0 715.4,102.4"/><polygon points="729.4,157.3 729.0,158.9 727.7,157.8"/><polygon points="660.1,140.2 659.5,138.6 661.2,138.8"/><polygon points="747.0,128.9 748.4,128.0 748.5,129.7"/><polygon points="669.1,204.4 667.8,205.4 667.6,203.8"/><polygon points="628.5,204.7 626.9,203.1 629.1,202.5"/><polygon points="692.9,123.5 691.5,122.2 693.3,121.7"/><polygon points="676.6,215.5 675.2,217.7 674.0,215.4"/><polygon points="635.8,123.4 633.3,123.8 634.2,121.5"/><polygon points="732.1,123.6 729.8,124.6 730.0,122.1"/><polygon points="744.0,129.8 742.5,130.6 742.5,128.9"/><polygon points="745.9,154.8 746.9,153.4 747.6,155.0"/><polygon points="759.8,114.4 757.8,113.7 759.5,112.3"/><polygon points="647.5,188.1 645.8,186.6 647.9,185.9"/><polygon points="630.4,96.1 632.2,94.9 632.3,97.1"/><polygon points="661.1,110.6 662.6,112.1 660.5,112.7"/><polygon points="744.6,162.3 742.9,162.5 743.6,160.9"/><polygon points="732.9,139.1 730.6,139.5 731.4,137.4"/><polygon points="744.5,127.9 744.0,130.3 742.1,128.7"/><polygon points="693.5,86.7 695.5,85.1 695.8,87.6"/><polygon points="753.4,118.9 753.4,120.7 751.9,119.8"/><polygon points="674.7,105.5 676.7,105.7 675.6,107.3"/><polygon points="619.0,153.4 620.9,152.6 620.7,154.6"/><polygon points="638.9,178.4 638.4,180.8 636.6,179.2"/><polygon points="668.6,177.9 669.6,179.6 667.6,179.5"/><polygon points="627.4,200.5 629.6,199.2 629.6,201.7"/><polygon points="699.2,155.1 697.3,155.9 697.6,153.8"/><polygon points="768.3,114.8 766.6,114.5 767.6,113.1"/><polygon points="658.6,193.6 657.0,193.5 657.9,192.2"/><polygon points="725.7,109.8 727.3,110.0 726.4,111.3"/><polygon points="708.8,154.7 706.5,154.5 707.9,152.6"/><polygon points="753.2,180.4 751.6,180.0 752.8,178.9"/><polygon points="695.8,151.7 694.0,151.3 695.3,150.0"/><polygon points="682.4,101.7 682.0,103.8 680.3,102.4"/><polygon points="642.7,161.7 640.7,160.6 642.7,159.4"/></g>
<path class="dot" d="M746.5 210.0h.7M678.8 140.2h.7M748.7 154.4h.7M679.8 210.5h.7M738.9 129.1h.7M655.8 128.6h.7M686.0 215.9h.7M743.2 206.6h.7M744.8 197.8h.7M626.8 153.2h.7M767.0 209.5h.7M657.1 140.4h.7M716.6 132.6h.7M700.8 92.8h.7M685.6 151.5h.7M621.7 102.2h.7M768.8 188.2h.7M763.7 168.9h.7M743.9 202.8h.7M755.6 88.0h.7M717.9 119.3h.7M723.7 120.3h.7M702.5 208.2h.7M714.8 117.2h.7M699.1 141.9h.7M765.9 122.2h.7M665.8 170.8h.7M637.2 163.6h.7M766.7 152.8h.7M660.1 146.4h.7M701.2 103.4h.7M637.7 101.1h.7M664.0 138.3h.7M663.2 116.3h.7M632.1 157.2h.7M748.7 165.7h.7M706.9 171.2h.7M649.7 179.3h.7M689.9 157.4h.7M713.5 146.7h.7M666.6 116.1h.7M652.8 152.6h.7M677.9 162.5h.7M620.3 131.0h.7M752.1 115.6h.7M704.8 149.7h.7M662.6 216.7h.7M664.3 187.6h.7M643.1 92.4h.7M753.5 142.8h.7M628.1 135.8h.7M686.7 182.7h.7M635.4 113.8h.7M767.2 183.1h.7M642.5 128.9h.7M673.1 174.6h.7M714.0 198.1h.7M745.8 153.3h.7M733.0 183.7h.7M736.3 147.6h.7M740.2 179.1h.7M760.3 100.6h.7M753.5 84.0h.7M737.2 162.5h.7M695.7 213.4h.7M707.2 139.8h.7M740.0 201.2h.7M712.6 134.6h.7M688.6 145.2h.7M730.6 122.9h.7M679.1 158.4h.7M678.1 126.9h.7M740.5 198.1h.7M695.9 143.3h.7M647.1 124.4h.7M641.0 161.1h.7M708.6 95.3h.7M761.1 127.1h.7M749.2 196.6h.7M767.1 111.0h.7M684.6 206.3h.7M620.2 89.8h.7M706.1 150.5h.7M761.1 187.8h.7M702.0 218.2h.7M698.7 153.2h.7M724.7 136.0h.7M673.9 163.7h.7M672.9 211.4h.7M723.4 154.3h.7M633.8 133.9h.7M680.6 159.2h.7M707.5 202.2h.7M768.0 149.1h.7M686.7 167.7h.7M772.9 129.7h.7M700.7 193.5h.7M645.0 126.3h.7M770.2 194.9h.7M698.0 98.3h.7M757.1 176.5h.7M745.7 217.1h.7M756.2 140.2h.7M642.7 122.5h.7M697.8 151.6h.7M647.7 108.0h.7M716.2 164.8h.7M673.2 217.6h.7M717.2 89.1h.7M682.3 189.7h.7M666.0 176.6h.7M619.1 124.5h.7M749.0 162.5h.7M722.1 109.9h.7M695.7 158.1h.7M659.7 170.7h.7M700.9 218.0h.7M707.5 138.9h.7M637.3 104.6h.7M736.2 97.8h.7M634.0 106.4h.7M699.5 194.5h.7M713.5 192.3h.7M628.1 85.1h.7M737.9 127.0h.7M729.4 131.2h.7M644.8 119.4h.7M633.9 205.4h.7M708.8 130.5h.7M688.2 135.5h.7M627.0 203.6h.7M708.8 212.9h.7M686.6 167.1h.7M657.1 89.3h.7M762.8 198.8h.7M667.3 204.7h.7M745.0 124.4h.7M711.9 213.0h.7M695.3 211.6h.7M656.2 136.0h.7M729.9 113.3h.7M666.4 201.6h.7M693.6 190.4h.7M656.2 106.8h.7M674.1 108.6h.7M769.1 122.6h.7M705.5 98.9h.7M701.2 135.5h.7M681.0 92.2h.7M637.6 194.9h.7M672.9 116.5h.7M648.1 121.7h.7M655.3 88.1h.7M721.5 129.5h.7M642.7 178.7h.7M632.9 119.8h.7M747.9 100.7h.7M687.2 196.3h.7M743.3 104.9h.7M673.2 180.9h.7M676.9 212.8h.7M650.7 211.8h.7M696.7 114.1h.7M688.7 101.1h.7M728.0 118.6h.7M757.9 162.7h.7M675.5 116.6h.7M712.8 112.1h.7M753.7 100.0h.7M698.0 156.7h.7M660.4 187.6h.7M678.1 172.2h.7M706.5 125.4h.7M678.9 95.0h.7M645.9 198.3h.7M668.3 172.9h.7M635.4 159.3h.7M674.5 150.9h.7M664.5 92.3h.7M666.7 114.0h.7M638.1 180.2h.7M662.3 137.9h.7M759.4 188.0h.7M755.3 199.7h.7M639.0 120.7h.7M623.1 175.1h.7M721.4 130.8h.7M682.4 172.4h.7M726.9 116.9h.7M749.7 130.9h.7M716.0 107.9h.7M636.4 206.6h.7M732.3 179.6h.7M624.8 88.8h.7M643.6 110.1h.7M665.5 134.8h.7M624.6 125.4h.7M717.4 107.7h.7M748.6 160.4h.7M729.6 117.8h.7M685.9 175.8h.7M672.6 83.5h.7M747.8 188.2h.7M662.9 89.2h.7M750.9 165.4h.7M625.8 116.4h.7M635.7 190.2h.7M651.1 206.9h.7M734.7 95.0h.7M726.2 136.5h.7M734.4 195.3h.7M662.1 95.5h.7M765.2 140.6h.7M762.7 176.8h.7M733.0 195.4h.7M715.9 144.5h.7M626.9 177.7h.7M684.9 152.5h.7M762.4 100.6h.7M736.6 89.3h.7M727.4 192.2h.7M659.0 157.2h.7M768.8 169.5h.7M702.8 117.1h.7M627.7 131.7h.7M682.3 110.6h.7M666.6 101.8h.7M728.1 173.9h.7M655.4 116.0h.7M698.4 143.5h.7M763.6 130.8h.7M664.9 202.8h.7M640.5 159.4h.7M670.2 193.5h.7M703.5 186.1h.7M644.7 173.4h.7M711.3 145.7h.7M737.3 195.6h.7M636.2 122.5h.7M674.4 111.3h.7M627.9 121.3h.7M649.1 178.1h.7M687.9 98.7h.7M668.8 146.7h.7M674.8 106.1h.7M629.6 84.9h.7M772.3 184.7h.7M631.5 180.2h.7M770.4 159.5h.7M635.4 149.4h.7M685.8 109.0h.7M702.7 84.5h.7M761.0 170.4h.7M715.8 209.7h.7M719.7 117.3h.7M656.6 102.1h.7M622.8 187.9h.7M748.6 123.4h.7M647.3 169.5h.7M749.6 208.5h.7M644.6 189.3h.7M747.2 183.6h.7M669.1 108.3h.7M746.4 126.6h.7M675.6 157.8h.7M675.7 195.6h.7M655.6 89.0h.7M706.4 168.2h.7M745.6 178.7h.7M758.8 211.0h.7M695.1 150.8h.7M642.9 123.8h.7M708.6 94.2h.7M725.1 105.5h.7M687.2 214.3h.7M632.4 88.8h.7M686.6 109.2h.7M730.6 83.8h.7M748.8 198.9h.7M740.5 140.8h.7M662.4 172.7h.7M698.3 140.3h.7M671.0 142.6h.7M721.7 194.9h.7M758.6 105.6h.7M664.3 143.2h.7M705.8 130.4h.7M648.8 94.9h.7M668.7 145.6h.7M769.1 206.1h.7M752.6 214.9h.7M767.6 167.1h.7M744.2 91.5h.7M723.3 165.6h.7M664.5 160.5h.7M766.2 148.3h.7M718.8 123.8h.7M671.7 202.9h.7M622.8 108.9h.7M723.7 143.8h.7M631.7 172.6h.7M676.2 161.8h.7M683.0 154.9h.7M706.0 136.9h.7M636.2 107.8h.7M756.4 157.4h.7M635.9 199.8h.7M657.8 96.2h.7M700.8 117.4h.7M694.3 158.2h.7M653.6 160.7h.7M636.0 152.7h.7M709.7 94.2h.7M681.7 93.3h.7M686.6 200.0h.7M703.8 179.9h.7M735.8 98.9h.7M772.1 180.8h.7M634.3 195.5h.7M679.3 106.5h.7M767.3 159.4h.7M738.6 101.9h.7M738.8 91.2h.7M655.2 133.7h.7M620.9 163.6h.7M651.5 123.9h.7M728.2 140.9h.7M756.2 167.3h.7M753.7 159.4h.7M760.7 201.0h.7M644.5 184.0h.7M671.4 186.5h.7M724.0 194.9h.7M637.5 133.8h.7M732.8 211.4h.7M730.4 89.3h.7M712.1 96.9h.7M703.6 191.8h.7M636.0 208.3h.7M723.2 117.8h.7M648.4 143.7h.7M748.4 161.9h.7M636.1 86.2h.7M635.6 191.5h.7M647.2 158.2h.7M663.5 176.2h.7M677.5 102.9h.7M754.2 156.1h.7M725.4 192.5h.7M765.6 85.3h.7M671.6 103.8h.7M696.3 201.3h.7M742.6 88.2h.7M646.8 193.9h.7M723.8 136.4h.7M692.2 104.8h.7M749.5 136.5h.7M753.8 165.9h.7M630.3 127.9h.7M652.0 204.1h.7M709.8 89.3h.7M644.8 132.1h.7M691.0 161.3h.7M678.6 131.1h.7M619.4 161.6h.7M670.2 86.2h.7M689.7 216.6h.7M625.5 103.1h.7M722.5 120.2h.7M660.9 150.9h.7M659.1 160.2h.7M700.4 212.6h.7M772.3 88.0h.7M705.4 187.5h.7M753.7 187.9h.7M716.6 169.1h.7M674.8 121.4h.7M741.8 201.2h.7M764.0 175.4h.7M665.6 186.4h.7M733.1 152.1h.7M717.0 130.7h.7M703.9 138.2h.7M627.9 128.9h.7M668.6 216.8h.7M693.1 133.0h.7M656.2 115.1h.7M672.6 101.7h.7M619.6 201.0h.7M688.7 143.5h.7M706.7 124.2h.7M644.7 92.4h.7M665.2 125.0h.7M731.1 157.8h.7M763.8 129.4h.7M761.3 162.2h.7M630.9 107.5h.7M708.5 216.7h.7M673.8 187.9h.7M684.9 200.6h.7M629.0 148.8h.7M757.9 120.6h.7M658.4 86.5h.7M644.0 119.6h.7M727.7 112.9h.7M680.4 110.4h.7M711.9 200.0h.7M719.0 110.0h.7M732.3 213.4h.7M711.7 94.1h.7M744.0 201.6h.7M671.4 101.8h.7M647.7 155.9h.7M754.2 169.8h.7M761.5 112.1h.7M669.1 184.6h.7M719.1 138.1h.7M723.7 129.0h.7M627.4 139.3h.7M625.5 168.0h.7M670.4 150.1h.7M711.2 118.1h.7M690.3 85.2h.7M761.9 159.6h.7M771.6 91.0h.7M713.7 181.2h.7M669.5 96.0h.7M642.7 102.7h.7M737.4 95.5h.7M744.7 140.5h.7M702.0 162.8h.7M704.5 172.1h.7M711.7 128.1h.7M733.4 118.2h.7M728.8 186.4h.7M738.8 125.1h.7M738.3 215.3h.7M688.7 121.0h.7M699.6 210.4h.7M638.9 84.6h.7M692.2 171.9h.7M738.5 132.3h.7M771.9 114.2h.7M735.8 95.5h.7M622.8 101.5h.7M627.8 151.1h.7M704.6 107.9h.7M764.2 132.8h.7M641.6 107.4h.7M732.9 207.8h.7M643.6 87.3h.7M739.1 116.1h.7M770.8 150.8h.7M717.1 129.9h.7M742.6 145.5h.7M668.7 205.4h.7M635.2 182.4h.7M628.6 170.5h.7M680.8 200.0h.7M627.8 159.6h.7M682.0 207.5h.7M765.0 168.1h.7M653.2 117.4h.7M659.2 142.0h.7M654.4 110.8h.7M736.2 170.2h.7M664.8 217.6h.7M652.1 160.3h.7M642.8 199.9h.7M753.2 119.5h.7M735.0 194.5h.7M662.3 128.2h.7M693.8 203.7h.7M643.5 175.6h.7M711.1 144.6h.7M708.3 202.6h.7M651.0 202.7h.7M674.4 188.7h.7M752.3 108.0h.7M752.4 217.7h.7M664.6 86.7h.7M635.8 214.9h.7M620.0 206.5h.7M641.9 182.8h.7M633.6 106.2h.7M724.3 95.6h.7M671.1 207.4h.7M729.5 202.5h.7M770.3 87.8h.7M654.9 190.3h.7M725.4 88.5h.7M696.7 114.7h.7M685.2 97.6h.7M621.6 217.2h.7M667.6 202.0h.7M637.2 149.2h.7M639.6 141.2h.7M646.2 175.9h.7M641.4 183.1h.7M696.1 98.6h.7M673.3 150.4h.7M760.9 130.6h.7M651.8 214.0h.7M755.4 182.1h.7M660.8 107.3h.7M659.5 92.7h.7M625.2 152.1h.7M681.8 158.5h.7M674.7 84.8h.7M725.2 171.6h.7M702.8 157.5h.7M725.5 216.0h.7M754.0 180.3h.7M680.4 126.4h.7M683.5 214.7h.7M678.5 135.4h.7M682.0 102.7h.7M773.2 84.1h.7M712.7 208.4h.7M658.0 165.9h.7M676.9 115.9h.7M649.3 99.1h.7M749.2 189.2h.7M759.3 90.1h.7M726.1 127.2h.7M718.7 157.5h.7M667.4 214.6h.7M618.6 184.1h.7M750.8 152.3h.7M710.3 217.7h.7M654.8 168.4h.7M733.7 134.5h.7M728.9 136.5h.7M700.1 166.1h.7M723.5 126.9h.7M716.0 156.7h.7M653.1 166.1h.7M659.6 206.1h.7M691.9 180.8h.7M699.4 147.7h.7M652.8 102.6h.7M762.2 154.8h.7M699.7 154.6h.7M744.6 115.6h.7M645.2 194.4h.7M689.8 169.9h.7M746.8 204.1h.7M753.0 89.2h.7M677.6 195.7h.7M745.3 100.0h.7M642.3 117.4h.7M634.4 131.5h.7M743.0 153.8h.7M688.7 95.3h.7M679.8 218.0h.7M726.2 144.1h.7M692.6 191.2h.7M736.1 103.6h.7M723.9 132.9h.7M699.2 115.5h.7M676.0 129.3h.7M677.6 85.8h.7M649.6 160.4h.7M627.4 107.5h.7M729.8 120.5h.7M668.7 116.0h.7M747.8 95.7h.7M717.1 199.4h.7M649.8 140.5h.7M741.3 166.8h.7M676.1 89.3h.7M687.1 133.0h.7M728.9 123.3h.7M681.7 170.9h.7M744.2 131.0h.7M678.2 161.5h.7M761.8 109.3h.7M769.1 179.5h.7M676.2 173.3h.7M669.6 93.0h.7M735.7 134.6h.7M700.0 150.4h.7M758.2 185.6h.7M622.5 163.4h.7M690.2 145.8h.7M748.6 139.4h.7M691.9 203.6h.7M686.7 149.7h.7"/>
<line class="h" x1="268.5" y1="239.5" x2="268.5" y2="396.4"/>
<line class="h" x1="272.5" y1="239.5" x2="272.5" y2="396.4"/>
<line class="h" x1="280.5" y1="239.5" x2="280.5" y2="396.4"/>
<line class="h" x1="288.5" y1="239.5" x2="288.5" y2="396.4"/>
<line class="h" x1="295.8" y1="239.5" x2="295.8" y2="396.4"/>
<line class="h" x1="307.7" y1="239.5" x2="307.7" y2="396.4"/>
<line class="h" x1="319.5" y1="239.5" x2="319.5" y2="396.4"/>
<line class="h" x1="331.8" y1="239.5" x2="331.8" y2="396.4"/>
<line class="h" x1="354.2" y1="239.5" x2="354.2" y2="396.4"/>
<line class="h" x1="366.3" y1="239.5" x2="366.3" y2="396.4"/>
<line class="h" x1="378.3" y1="239.5" x2="378.3" y2="396.4"/>
<line class="h" x1="390.2" y1="239.5" x2="390.2" y2="396.4"/>
<line class="h" x1="397.5" y1="239.5" x2="397.5" y2="396.4"/>
<line class="h" x1="405.5" y1="239.5" x2="405.5" y2="396.4"/>
<line class="h" x1="413.5" y1="239.5" x2="413.5" y2="396.4"/>
<line class="h" x1="417.5" y1="239.5" x2="417.5" y2="396.4"/>
<g class="tri"><polygon points="344.7,366.3 346.0,368.2 343.7,368.3"/><polygon points="326.7,247.3 328.9,246.9 328.2,249.0"/><polygon points="384.4,360.2 383.3,358.9 384.9,358.6"/><polygon points="279.1,367.0 277.5,366.9 278.3,365.5"/><polygon points="381.4,327.0 382.7,327.9 381.2,328.6"/><polygon points="375.0,314.5 376.2,315.5 374.7,316.0"/><polygon points="331.1,329.4 331.3,332.0 329.0,330.9"/><polygon points="398.8,263.6 400.6,262.9 400.3,264.8"/><polygon points="267.3,393.7 266.5,392.1 268.4,392.2"/><polygon points="313.1,280.0 315.5,279.6 314.6,281.9"/><polygon points="344.4,306.6 344.1,305.0 345.6,305.6"/><polygon points="399.1,365.5 397.9,363.4 400.4,363.5"/><polygon points="296.6,250.3 297.1,248.3 298.6,249.8"/><polygon points="336.7,317.2 337.1,315.1 338.8,316.5"/><polygon points="387.8,271.6 390.2,271.2 389.4,273.6"/><polygon points="273.3,290.2 274.3,288.3 275.4,290.1"/><polygon points="353.2,290.0 353.7,291.7 351.9,291.2"/><polygon points="309.9,349.4 312.3,349.5 311.0,351.5"/><polygon points="336.9,383.6 336.3,385.6 334.9,384.1"/><polygon points="276.6,308.2 274.4,308.7 275.1,306.6"/><polygon points="399.0,253.6 397.2,252.4 399.2,251.5"/><polygon points="406.2,327.3 408.3,326.1 408.3,328.5"/><polygon points="369.9,345.7 368.6,344.4 370.4,344.0"/><polygon points="395.1,265.2 393.4,263.4 395.8,262.8"/><polygon points="283.2,255.6 281.6,257.4 280.9,255.1"/><polygon points="330.8,341.7 330.0,343.3 329.0,341.8"/><polygon points="371.1,264.3 372.4,265.3 370.8,265.9"/><polygon points="273.0,370.4 271.9,368.9 273.8,368.7"/><polygon points="356.3,291.3 354.3,290.3 356.1,289.1"/><polygon points="406.8,292.2 404.6,291.2 406.6,289.8"/><polygon points="389.9,391.6 388.0,392.2 388.4,390.3"/><polygon points="323.6,339.2 325.4,338.8 324.9,340.5"/><polygon points="279.6,313.1 280.9,311.2 281.9,313.3"/><polygon points="371.4,260.0 369.0,259.4 370.7,257.6"/><polygon points="406.3,393.6 408.7,392.7 408.3,395.2"/><polygon points="309.6,294.7 311.6,293.5 311.7,295.9"/><polygon points="409.5,254.8 409.2,256.8 407.6,255.5"/><polygon points="358.6,324.9 357.0,324.3 358.3,323.3"/><polygon points="308.2,379.4 306.7,377.5 309.1,377.2"/><polygon points="409.2,246.2 407.6,247.7 407.1,245.5"/><polygon points="320.4,386.3 318.2,386.8 318.9,384.6"/><polygon points="317.4,309.2 318.4,310.7 316.6,310.8"/><polygon points="294.8,362.4 293.0,362.6 293.8,360.9"/><polygon points="352.3,254.9 352.9,257.0 350.9,256.5"/><polygon points="356.7,312.0 358.1,311.3 358.0,312.9"/><polygon points="280.5,339.9 282.2,339.9 281.4,341.4"/><polygon points="321.2,299.9 319.2,298.8 321.1,297.7"/><polygon points="293.1,384.5 293.0,386.4 291.4,385.4"/><polygon points="401.0,315.5 399.2,315.4 400.2,313.9"/><polygon points="399.8,259.1 401.8,258.5 401.4,260.5"/><polygon points="283.5,312.8 285.2,312.3 284.8,314.0"/><polygon points="343.2,298.2 344.0,296.6 345.0,298.0"/><polygon points="298.3,260.2 297.9,261.9 296.6,260.7"/><polygon points="344.1,377.4 343.1,378.6 342.6,377.1"/><polygon points="340.8,361.3 342.5,362.6 340.5,363.4"/><polygon points="301.5,357.2 300.8,355.6 302.5,355.8"/><polygon points="270.9,302.8 270.4,300.8 272.4,301.3"/><polygon points="402.9,255.6 401.6,253.9 403.8,253.7"/><polygon points="358.8,361.9 356.5,362.2 357.4,360.1"/><polygon points="305.5,333.5 303.0,334.2 303.7,331.7"/><polygon points="360.3,348.4 360.5,346.0 362.5,347.4"/><polygon points="392.0,312.2 389.7,313.3 389.9,310.8"/><polygon points="411.3,305.1 409.4,305.0 410.4,303.3"/><polygon points="304.7,354.8 302.7,353.8 304.5,352.5"/><polygon points="319.4,264.0 318.2,262.6 319.9,262.3"/><polygon points="317.5,389.3 318.2,391.8 315.7,391.1"/><polygon points="341.0,316.8 340.0,318.9 338.7,316.9"/><polygon points="380.8,338.1 382.5,338.5 381.2,339.8"/><polygon points="395.7,360.8 396.8,362.1 395.2,362.4"/><polygon points="319.2,265.0 321.4,266.4 319.1,267.6"/><polygon points="381.9,261.6 380.4,263.5 379.5,261.3"/><polygon points="405.4,354.1 405.9,356.5 403.6,355.7"/><polygon points="357.1,306.7 357.9,309.0 355.5,308.5"/><polygon points="398.3,286.9 400.7,286.1 400.2,288.6"/><polygon points="411.6,257.8 412.3,260.2 409.8,259.6"/><polygon points="305.4,370.7 304.0,369.5 305.7,368.9"/><polygon points="337.6,277.0 336.6,278.9 335.5,277.1"/><polygon points="371.6,349.0 372.2,350.9 370.3,350.5"/><polygon points="388.6,344.6 388.7,347.1 386.5,346.0"/><polygon points="329.3,253.7 329.3,255.9 327.4,254.8"/><polygon points="318.8,331.1 319.4,333.5 317.1,332.8"/><polygon points="267.9,316.9 266.3,316.6 267.3,315.4"/><polygon points="389.6,305.8 391.1,304.3 391.7,306.4"/><polygon points="318.4,273.2 318.3,275.2 316.7,274.1"/><polygon points="361.1,287.1 360.5,285.6 362.1,285.8"/><polygon points="374.2,307.9 374.6,310.1 372.5,309.3"/><polygon points="285.4,345.1 285.5,346.7 284.0,346.0"/><polygon points="293.7,284.1 294.2,281.6 296.1,283.3"/><polygon points="301.8,376.8 301.0,378.8 299.6,377.1"/><polygon points="325.4,317.8 327.6,316.7 327.5,319.2"/><polygon points="418.5,271.7 416.4,270.5 418.4,269.2"/><polygon points="348.1,241.2 347.0,242.5 346.4,240.9"/><polygon points="335.4,366.1 335.6,364.3 337.1,365.4"/><polygon points="280.5,325.9 282.7,324.8 282.5,327.3"/><polygon points="323.4,382.2 325.6,383.5 323.4,384.7"/><polygon points="279.2,336.6 277.8,338.0 277.3,336.1"/><polygon points="321.0,343.5 321.5,341.4 323.1,342.9"/><polygon points="344.9,345.0 347.1,343.7 347.1,346.2"/><polygon points="322.6,390.0 322.6,391.6 321.2,390.8"/><polygon points="371.1,325.6 372.1,327.3 370.1,327.3"/><polygon points="404.2,353.2 401.9,353.9 402.4,351.7"/><polygon points="317.4,261.5 316.5,263.9 314.9,261.9"/><polygon points="289.8,331.7 287.7,332.2 288.3,330.1"/><polygon points="326.3,357.0 325.5,354.9 327.7,355.4"/><polygon points="382.1,286.6 383.2,284.8 384.2,286.7"/><polygon points="415.5,339.5 417.5,340.8 415.4,341.9"/><polygon points="324.2,387.5 326.0,388.9 323.9,389.8"/><polygon points="309.5,265.1 309.6,267.3 307.7,266.3"/><polygon points="387.0,294.5 388.5,293.8 388.3,295.5"/><polygon points="401.4,267.5 399.4,266.3 401.4,265.1"/><polygon points="313.4,250.4 314.0,248.6 315.3,250.0"/><polygon points="414.1,389.6 413.8,387.8 415.4,388.5"/><polygon points="409.9,272.1 411.0,270.6 411.8,272.3"/></g>
<path class="dot" d="M282.3 280.8h.7M326.6 300.2h.7M414.9 281.8h.7M297.1 381.3h.7M335.3 370.2h.7M364.3 361.1h.7M314.3 264.1h.7M382.8 313.3h.7M352.1 344.4h.7M382.2 283.2h.7M321.7 382.6h.7M347.5 285.2h.7M363.2 280.7h.7M385.1 246.9h.7M393.6 328.2h.7M320.3 386.1h.7M306.7 278.2h.7M276.3 325.5h.7M382.3 345.5h.7M329.5 365.6h.7M282.7 288.0h.7M365.4 390.3h.7M363.8 347.7h.7M385.6 301.6h.7M411.3 355.5h.7M318.5 301.3h.7M390.4 294.7h.7M294.3 375.5h.7M347.9 321.2h.7M369.3 380.1h.7M286.2 293.0h.7M275.7 304.5h.7M343.3 372.5h.7M369.0 330.0h.7M328.1 329.4h.7M307.9 371.4h.7M387.7 370.4h.7M288.9 344.5h.7M382.4 318.0h.7M404.7 379.7h.7M380.7 367.7h.7M366.1 376.6h.7M285.8 349.6h.7M374.6 335.4h.7M308.1 250.9h.7M359.0 368.2h.7M307.8 273.5h.7M300.2 255.0h.7M370.3 391.5h.7M389.8 296.2h.7M373.9 251.7h.7M395.5 290.9h.7M266.0 338.0h.7M287.0 283.1h.7M274.7 309.5h.7M351.5 365.6h.7M271.6 368.7h.7M282.6 275.3h.7M363.1 293.2h.7M316.8 328.6h.7M299.3 363.4h.7M297.9 370.5h.7M390.9 323.7h.7M270.2 361.0h.7M269.9 318.7h.7M331.2 250.3h.7M363.2 352.7h.7M356.2 302.5h.7M344.9 331.7h.7M300.6 374.9h.7M419.8 365.1h.7M414.5 291.5h.7M418.4 251.6h.7M339.6 261.2h.7M335.9 346.2h.7M375.3 310.9h.7M318.5 269.9h.7M327.9 284.3h.7M295.6 354.5h.7M345.5 308.4h.7M296.1 349.5h.7M296.0 281.6h.7M352.3 349.1h.7M416.3 356.3h.7M412.5 383.0h.7M377.5 352.0h.7M275.2 272.4h.7M267.5 374.3h.7M377.4 338.1h.7M306.4 295.5h.7M290.9 338.4h.7M419.2 287.9h.7M272.4 267.6h.7M320.6 379.8h.7M390.2 311.0h.7M281.3 257.0h.7M289.4 360.9h.7M338.5 393.9h.7M406.8 363.6h.7M339.3 367.8h.7M285.4 257.4h.7M352.8 319.2h.7M297.9 279.5h.7M268.8 381.3h.7M375.6 386.9h.7M417.5 308.2h.7M379.0 300.0h.7M391.3 370.8h.7M286.2 242.5h.7M298.7 331.2h.7M324.2 241.9h.7M394.2 362.3h.7M337.4 247.2h.7M403.3 323.2h.7M276.5 290.6h.7M362.3 377.6h.7M340.6 339.6h.7M297.4 278.2h.7M405.9 299.8h.7M281.6 332.1h.7M285.1 271.5h.7M336.2 331.2h.7M364.1 350.0h.7M333.6 251.0h.7M377.8 248.8h.7M338.5 302.5h.7M369.8 351.1h.7M302.7 341.1h.7M372.8 313.6h.7M287.5 381.3h.7M358.4 250.2h.7M302.5 393.4h.7M301.0 301.3h.7M387.6 368.1h.7M363.8 355.4h.7M271.4 255.0h.7M416.8 364.8h.7M271.4 248.0h.7M302.8 384.7h.7M299.5 344.6h.7M409.7 339.4h.7M408.0 281.2h.7M289.3 243.3h.7M382.9 256.6h.7M416.3 350.5h.7M294.5 365.5h.7M290.7 319.8h.7M281.9 362.4h.7M403.4 382.4h.7M265.9 372.4h.7M351.7 367.7h.7M343.4 336.5h.7M357.7 364.3h.7M277.5 248.9h.7M350.0 285.6h.7M327.0 241.7h.7M381.0 244.2h.7M394.1 366.2h.7M336.5 259.4h.7M366.3 272.6h.7M332.0 257.6h.7M416.9 325.1h.7M320.1 255.1h.7M378.7 372.1h.7M397.0 256.2h.7M322.5 287.4h.7M383.7 263.4h.7M359.5 392.1h.7M384.7 241.6h.7M277.1 258.1h.7M372.8 333.2h.7M346.1 311.1h.7M328.6 335.1h.7M366.0 382.5h.7M379.1 363.9h.7M407.0 370.2h.7M376.6 245.2h.7M371.0 372.2h.7M332.3 376.5h.7M293.4 386.5h.7M334.0 349.9h.7M304.7 287.1h.7M319.5 290.8h.7M280.2 309.1h.7M417.5 341.8h.7M410.0 358.6h.7M395.2 394.5h.7M382.2 283.0h.7M304.2 304.4h.7M268.7 276.2h.7M402.9 383.1h.7M316.4 359.8h.7M385.6 378.3h.7M388.7 322.9h.7M281.8 368.4h.7M314.1 337.6h.7M322.4 323.7h.7M415.2 265.5h.7M347.8 341.2h.7M349.0 385.8h.7M328.7 382.0h.7M372.4 390.4h.7M279.4 273.4h.7M310.0 380.9h.7M267.6 280.8h.7M376.5 393.8h.7M292.8 308.3h.7M372.0 347.5h.7M381.1 357.2h.7M304.0 280.3h.7M269.8 347.6h.7M297.9 280.7h.7M415.0 340.1h.7M357.1 342.1h.7M358.2 348.1h.7M312.6 250.4h.7M275.9 242.8h.7M321.5 262.5h.7M283.0 317.0h.7M415.8 347.0h.7M307.9 359.7h.7M293.1 256.0h.7M312.5 303.8h.7M372.4 309.4h.7M378.4 255.2h.7M410.0 293.5h.7M394.5 245.3h.7M394.0 275.5h.7M398.0 364.9h.7M369.5 283.5h.7M267.0 269.9h.7M405.8 265.0h.7M367.7 331.4h.7M368.0 268.5h.7M287.8 255.5h.7M417.8 299.8h.7M366.6 328.7h.7M300.1 250.5h.7M267.8 372.6h.7M285.7 389.7h.7M321.9 352.4h.7M286.9 362.6h.7M304.5 297.2h.7M346.6 257.8h.7M304.0 363.8h.7M309.7 299.5h.7M384.0 275.2h.7M295.6 274.4h.7M325.0 297.1h.7M364.9 313.6h.7M400.3 248.3h.7M368.4 370.1h.7M301.9 245.1h.7M333.4 258.4h.7M336.8 350.7h.7M280.0 258.7h.7M339.8 267.4h.7M301.3 308.7h.7M283.8 251.0h.7M321.5 313.2h.7M410.7 326.4h.7M276.6 275.0h.7M380.9 327.7h.7M400.4 389.6h.7M398.5 257.5h.7M411.8 321.8h.7M302.7 266.9h.7M399.5 273.4h.7M278.4 281.6h.7M408.7 311.9h.7M378.9 252.0h.7M335.7 289.7h.7M297.3 343.2h.7M321.5 259.0h.7M418.0 315.1h.7M293.4 242.2h.7M366.7 320.2h.7M269.3 313.4h.7M380.3 323.7h.7M301.8 317.8h.7M359.3 341.4h.7M288.0 365.0h.7M412.1 355.2h.7M398.4 297.5h.7M405.4 268.6h.7M300.7 333.1h.7M405.2 253.2h.7M299.1 246.1h.7M333.5 262.3h.7M295.2 356.5h.7M355.9 386.0h.7M327.8 345.7h.7M267.5 387.4h.7M301.6 314.4h.7M344.8 387.4h.7M341.8 394.1h.7M361.8 274.0h.7M394.8 271.8h.7M420.4 311.2h.7M300.6 389.4h.7M315.4 303.5h.7M318.7 344.1h.7M269.1 298.4h.7M290.6 368.8h.7M265.5 334.6h.7M305.5 310.8h.7M352.6 350.7h.7M286.8 277.7h.7M284.2 389.2h.7M288.6 261.7h.7M346.4 330.6h.7M402.9 249.3h.7M301.8 266.4h.7M356.3 310.6h.7M328.9 378.1h.7M368.1 373.7h.7M413.8 282.2h.7M411.5 303.7h.7M273.5 382.2h.7M281.6 243.2h.7M310.4 285.3h.7M415.4 375.3h.7M330.6 322.5h.7M397.1 365.5h.7M366.8 319.9h.7M283.6 278.3h.7M367.5 331.3h.7M389.7 379.7h.7M414.7 270.3h.7M277.3 379.5h.7M353.9 268.6h.7M372.8 280.1h.7M302.2 297.2h.7M346.7 345.4h.7M276.9 355.3h.7M362.3 313.6h.7M369.7 364.4h.7M267.0 314.1h.7M370.6 350.3h.7M365.9 268.4h.7M414.1 362.2h.7M301.6 307.2h.7M414.0 272.6h.7M328.9 389.5h.7M405.0 276.5h.7M379.5 296.2h.7M368.3 359.3h.7M285.3 275.0h.7M298.8 281.7h.7M271.0 261.6h.7M328.5 305.7h.7M277.6 330.7h.7M411.6 329.9h.7M320.6 349.6h.7M333.3 267.7h.7M340.2 243.2h.7M370.3 265.4h.7M322.8 389.6h.7M384.4 369.9h.7M365.0 338.8h.7M374.8 390.2h.7M295.9 359.2h.7M312.1 280.1h.7M392.8 333.6h.7M397.2 376.1h.7M356.8 271.2h.7M267.8 323.3h.7M378.0 282.7h.7M276.4 241.2h.7M292.3 348.3h.7M266.1 276.1h.7M306.6 350.6h.7M418.5 243.5h.7M283.2 385.3h.7M415.8 263.5h.7M317.5 321.4h.7M315.1 305.2h.7M339.7 280.5h.7M274.0 253.5h.7M290.7 254.7h.7M362.2 348.4h.7M306.3 363.1h.7M378.5 293.4h.7M341.7 269.7h.7M409.5 327.3h.7M273.4 264.3h.7M372.9 300.2h.7M376.6 276.0h.7M389.1 364.7h.7M280.1 331.3h.7M295.2 350.1h.7M390.1 363.1h.7M301.3 255.0h.7M368.3 328.0h.7M286.9 270.4h.7M355.8 257.2h.7M363.8 277.8h.7M305.6 306.1h.7M348.1 352.7h.7M270.3 352.7h.7M299.8 285.5h.7M364.7 347.6h.7M360.8 380.2h.7M297.2 288.7h.7M368.2 280.9h.7M289.9 275.6h.7M385.1 368.6h.7M376.5 389.0h.7M388.6 288.5h.7M314.4 352.2h.7M274.1 334.9h.7M279.3 248.1h.7M345.1 263.9h.7M409.9 376.4h.7M337.1 271.1h.7M284.0 319.0h.7M346.3 296.7h.7M376.5 322.5h.7M385.7 257.0h.7M276.4 300.5h.7M340.4 279.6h.7M369.1 274.9h.7M314.8 314.4h.7M375.9 359.8h.7M323.1 309.7h.7M409.3 385.2h.7M361.4 256.8h.7M336.1 339.1h.7M308.7 246.3h.7M417.6 381.4h.7M285.5 312.7h.7M361.5 287.0h.7M276.1 356.8h.7M385.0 308.2h.7M278.8 301.5h.7M280.1 389.7h.7M273.4 285.1h.7M384.5 261.4h.7M282.0 251.4h.7M290.9 322.9h.7M394.6 266.7h.7M292.4 359.0h.7M331.5 292.9h.7M284.6 278.1h.7M416.1 258.6h.7M305.7 355.2h.7M403.7 380.6h.7M338.8 388.6h.7M359.1 285.2h.7M337.6 351.4h.7M379.3 260.6h.7M295.5 388.9h.7M282.1 366.5h.7M318.0 278.9h.7M305.0 313.2h.7M419.0 263.5h.7M398.0 290.3h.7M292.3 355.9h.7M318.4 269.5h.7M330.4 367.8h.7M399.3 329.6h.7M267.1 358.8h.7M359.5 379.8h.7M413.1 291.2h.7M397.0 367.3h.7M306.7 297.2h.7M323.6 295.2h.7M324.1 257.6h.7M300.7 381.4h.7M329.1 339.0h.7M403.0 357.5h.7M303.4 382.9h.7M390.1 394.0h.7M378.3 357.4h.7M391.5 279.7h.7M367.2 299.5h.7M395.7 261.2h.7M349.1 292.6h.7M392.7 294.0h.7M396.3 371.8h.7M401.7 262.0h.7M410.9 355.8h.7M370.4 341.6h.7M272.9 375.3h.7M350.4 311.1h.7M318.1 361.8h.7M386.7 375.2h.7M298.7 293.2h.7M304.1 256.1h.7M316.2 244.5h.7M389.0 275.7h.7M276.5 251.0h.7M380.4 271.2h.7M337.1 302.7h.7M389.9 388.3h.7M313.5 338.4h.7M404.2 313.4h.7M404.9 354.2h.7M313.8 375.9h.7M354.4 256.9h.7M356.6 368.9h.7M345.9 315.5h.7M330.0 376.9h.7M368.7 272.7h.7M321.7 296.8h.7M414.1 348.3h.7M284.9 382.1h.7M270.9 332.0h.7M332.5 351.6h.7M332.0 254.8h.7M346.7 367.6h.7M387.8 295.7h.7M300.0 355.9h.7M389.8 274.4h.7M402.4 394.2h.7M332.7 299.5h.7M375.5 384.5h.7M296.8 287.2h.7M316.5 353.9h.7M294.5 325.2h.7M343.0 344.0h.7M287.7 388.7h.7M420.5 327.4h.7M388.8 268.9h.7M406.6 325.9h.7M383.2 375.0h.7M321.6 383.6h.7M297.6 244.1h.7M343.4 379.7h.7M405.1 388.4h.7M344.7 385.0h.7M352.3 262.8h.7M363.3 364.9h.7M331.2 333.8h.7M305.7 283.3h.7M330.6 320.0h.7M338.1 254.8h.7M266.4 293.2h.7M376.6 356.4h.7M302.2 280.1h.7M345.6 267.7h.7M359.0 380.6h.7M296.8 331.2h.7M377.2 356.6h.7M375.9 350.6h.7M307.7 370.4h.7M408.9 248.6h.7M411.8 309.1h.7M278.9 251.3h.7M389.0 345.5h.7M287.5 311.7h.7M364.5 395.0h.7M317.6 359.2h.7M303.5 271.3h.7M290.5 304.0h.7M361.3 287.5h.7M290.6 274.3h.7M278.7 270.4h.7M314.4 318.7h.7M294.0 314.8h.7M333.7 391.2h.7M340.9 386.9h.7M338.6 271.2h.7M357.3 262.9h.7M291.7 251.9h.7M374.2 390.3h.7M328.0 295.3h.7M331.4 295.0h.7M372.6 301.2h.7M289.1 374.4h.7M354.2 241.5h.7M397.2 353.3h.7M320.4 338.1h.7M408.1 302.7h.7M332.5 286.7h.7M351.4 343.2h.7M379.4 387.5h.7M288.0 297.2h.7M397.5 363.0h.7M357.0 345.4h.7M318.2 386.9h.7M350.7 302.9h.7M293.8 258.4h.7M404.6 364.5h.7M269.6 290.6h.7M339.8 317.3h.7M321.8 379.2h.7M319.7 322.9h.7M409.6 339.5h.7M339.4 292.0h.7M325.5 334.9h.7M387.3 280.9h.7M322.9 300.6h.7M321.7 381.9h.7M349.0 283.2h.7M317.0 367.7h.7M290.3 347.4h.7M268.9 270.4h.7M274.7 365.3h.7M288.3 275.8h.7M274.4 281.4h.7M379.2 352.0h.7M406.6 387.2h.7M350.9 383.3h.7M279.4 383.8h.7M332.8 270.4h.7M381.4 373.5h.7M325.3 254.9h.7M400.8 357.2h.7M358.0 391.8h.7M271.4 249.2h.7M284.8 243.9h.7M375.3 338.1h.7M282.9 265.6h.7M293.5 334.9h.7M369.7 390.7h.7M321.4 392.1h.7M332.8 301.1h.7M304.8 276.5h.7M416.6 394.6h.7M374.9 267.6h.7M293.4 264.1h.7M319.9 354.7h.7M274.6 322.6h.7M371.0 245.7h.7M333.6 363.0h.7M354.7 310.5h.7M402.1 333.6h.7M317.7 301.8h.7M411.7 373.6h.7M407.3 327.4h.7M287.6 267.6h.7M324.9 347.5h.7M266.2 364.7h.7M387.3 320.2h.7M266.4 364.1h.7M329.7 344.2h.7M353.8 353.3h.7M328.9 389.2h.7M413.6 384.4h.7M360.9 289.5h.7M323.9 282.2h.7M405.6 363.2h.7M387.7 367.7h.7M419.1 347.1h.7M314.8 357.8h.7M306.2 335.1h.7M290.1 373.4h.7M341.3 283.1h.7M408.5 253.4h.7M409.7 357.8h.7M288.6 358.4h.7M354.4 381.0h.7M356.4 306.7h.7M410.2 254.0h.7M385.9 256.4h.7M308.4 258.1h.7M400.5 308.9h.7M378.1 280.2h.7M378.7 341.0h.7M280.6 317.0h.7M377.4 273.7h.7M366.9 283.5h.7M322.9 383.0h.7M411.7 395.1h.7M331.6 329.1h.7M390.8 358.0h.7M336.2 374.3h.7M327.7 387.7h.7M338.8 258.9h.7M381.6 262.9h.7M370.8 248.8h.7M418.7 324.3h.7M380.3 260.8h.7M364.2 298.8h.7M304.1 366.7h.7M270.7 314.5h.7M279.0 372.4h.7"/>
<line class="h" x1="444.5" y1="239.5" x2="444.5" y2="396.4"/>
<line class="h" x1="448.5" y1="239.5" x2="448.5" y2="396.4"/>
<line class="h" x1="456.5" y1="239.5" x2="456.5" y2="396.4"/>
<line class="h" x1="464.5" y1="239.5" x2="464.5" y2="396.4"/>
<line class="h" x1="471.8" y1="239.5" x2="471.8" y2="396.4"/>
<line class="h" x1="483.7" y1="239.5" x2="483.7" y2="396.4"/>
<line class="h" x1="495.5" y1="239.5" x2="495.5" y2="396.4"/>
<line class="h" x1="507.8" y1="239.5" x2="507.8" y2="396.4"/>
<line class="h" x1="530.2" y1="239.5" x2="530.2" y2="396.4"/>
<line class="h" x1="542.3" y1="239.5" x2="542.3" y2="396.4"/>
<line class="h" x1="554.3" y1="239.5" x2="554.3" y2="396.4"/>
<line class="h" x1="566.2" y1="239.5" x2="566.2" y2="396.4"/>
<line class="h" x1="573.5" y1="239.5" x2="573.5" y2="396.4"/>
<line class="h" x1="581.5" y1="239.5" x2="581.5" y2="396.4"/>
<line class="h" x1="589.5" y1="239.5" x2="589.5" y2="396.4"/>
<line class="h" x1="593.5" y1="239.5" x2="593.5" y2="396.4"/>
<g class="tri"><polygon points="578.0,247.0 579.5,245.6 579.9,247.6"/><polygon points="553.5,352.5 552.4,354.1 551.6,352.3"/><polygon points="471.9,263.3 469.5,262.8 471.2,261.0"/><polygon points="471.5,318.9 469.8,318.0 471.5,317.0"/><polygon points="584.8,315.3 583.6,313.3 586.0,313.3"/><polygon points="581.0,274.4 583.5,274.8 581.9,276.7"/><polygon points="589.8,359.2 591.9,358.5 591.5,360.6"/><polygon points="574.1,308.8 573.3,310.3 572.4,308.9"/><polygon points="565.9,347.1 564.5,345.2 566.8,345.0"/><polygon points="514.7,366.6 513.3,368.8 512.1,366.5"/><polygon points="466.0,346.8 467.0,344.8 468.2,346.6"/><polygon points="467.0,262.5 468.7,261.4 468.8,263.5"/><polygon points="483.6,296.5 484.5,298.4 482.4,298.3"/><polygon points="531.7,267.3 532.2,264.9 534.1,266.6"/><polygon points="588.5,391.1 590.2,391.1 589.4,392.6"/><polygon points="589.9,301.5 589.7,299.4 591.6,300.2"/><polygon points="446.7,273.7 446.2,272.1 447.8,272.5"/><polygon points="538.2,326.2 540.3,327.8 537.9,328.8"/><polygon points="496.7,386.3 498.8,385.8 498.3,387.9"/><polygon points="573.6,343.2 575.5,343.5 574.3,345.0"/><polygon points="489.5,389.5 488.1,390.7 487.8,388.9"/><polygon points="452.7,244.2 451.2,242.7 453.2,242.1"/><polygon points="519.5,258.3 521.5,259.6 519.4,260.8"/><polygon points="546.5,381.8 548.7,383.3 546.4,384.4"/><polygon points="550.8,242.2 551.7,240.8 552.4,242.3"/><polygon points="592.0,289.4 590.1,290.4 590.2,288.3"/><polygon points="506.7,378.4 506.8,380.5 504.9,379.6"/><polygon points="445.0,271.6 445.0,273.4 443.5,272.5"/><polygon points="458.8,383.3 458.3,385.0 457.0,383.7"/><polygon points="520.2,291.8 521.3,289.5 522.7,291.6"/><polygon points="550.6,251.6 548.7,253.1 548.4,250.7"/><polygon points="460.0,356.5 458.4,355.7 459.8,354.6"/><polygon points="499.7,342.6 497.5,344.0 497.4,341.4"/><polygon points="595.2,337.9 593.2,336.8 595.1,335.7"/><polygon points="554.5,325.1 553.7,326.9 552.6,325.3"/><polygon points="482.1,264.0 480.5,263.3 481.9,262.2"/><polygon points="531.5,363.9 533.1,363.1 533.0,364.8"/><polygon points="529.3,326.9 531.2,326.4 530.7,328.3"/><polygon points="444.9,251.5 443.8,249.9 445.8,249.7"/><polygon points="558.4,279.9 557.1,277.9 559.5,277.7"/><polygon points="456.1,315.5 456.1,313.5 457.8,314.5"/><polygon points="560.2,274.4 560.2,276.6 558.3,275.5"/><polygon points="510.6,317.5 513.1,317.9 511.6,319.9"/><polygon points="469.7,253.0 469.7,251.3 471.1,252.1"/><polygon points="455.7,341.8 455.4,339.8 457.2,340.5"/><polygon points="521.5,385.6 519.8,384.8 521.3,383.8"/><polygon points="488.8,289.7 490.6,291.4 488.2,292.1"/><polygon points="508.8,267.5 507.2,267.1 508.3,266.0"/><polygon points="571.5,339.9 573.1,340.3 571.9,341.5"/><polygon points="452.3,319.7 450.4,319.4 451.6,317.9"/><polygon points="556.7,352.1 554.9,351.1 556.7,350.1"/><polygon points="546.0,308.5 543.8,308.3 545.0,306.5"/><polygon points="579.8,242.7 580.5,241.0 581.5,242.5"/><polygon points="474.2,254.9 472.2,256.1 472.1,253.8"/><polygon points="494.0,283.5 492.5,281.8 494.7,281.4"/><polygon points="504.5,347.7 502.7,346.8 504.3,345.7"/><polygon points="454.6,323.8 453.3,326.0 452.0,323.8"/><polygon points="458.2,319.4 456.6,318.1 458.5,317.4"/><polygon points="544.6,318.6 544.0,316.3 546.3,316.9"/><polygon points="586.1,367.0 584.2,366.2 585.8,364.9"/><polygon points="516.1,259.7 517.8,261.2 515.6,261.9"/><polygon points="530.8,389.9 531.8,391.1 530.3,391.4"/><polygon points="566.1,259.1 564.2,259.5 564.8,257.7"/><polygon points="531.3,351.0 532.8,352.2 531.0,352.9"/><polygon points="499.7,350.2 498.2,351.4 498.0,349.6"/><polygon points="509.4,241.1 510.4,242.4 508.8,242.6"/><polygon points="575.5,338.1 575.1,339.8 573.8,338.6"/><polygon points="551.6,258.1 553.3,259.1 551.6,260.1"/><polygon points="443.8,247.2 443.3,249.0 442.0,247.7"/><polygon points="595.3,288.8 596.0,291.2 593.6,290.6"/><polygon points="573.9,330.3 576.3,331.2 574.3,332.8"/><polygon points="586.5,327.9 588.1,327.2 587.9,329.0"/><polygon points="515.3,293.0 517.0,292.2 516.9,294.1"/><polygon points="531.4,275.5 533.0,274.6 533.0,276.5"/><polygon points="520.1,306.7 518.3,305.4 520.4,304.5"/><polygon points="523.5,282.4 525.2,284.0 522.9,284.7"/><polygon points="562.9,320.1 561.9,321.7 561.1,320.0"/><polygon points="519.8,299.5 520.6,297.8 521.6,299.3"/><polygon points="550.8,365.5 552.0,367.1 550.0,367.4"/><polygon points="474.7,311.7 474.4,309.8 476.2,310.4"/><polygon points="497.9,358.2 496.2,356.6 498.4,355.9"/><polygon points="477.7,360.3 479.6,361.5 477.6,362.5"/><polygon points="540.7,347.9 538.9,348.2 539.5,346.5"/><polygon points="496.2,246.2 498.6,245.3 498.2,247.8"/><polygon points="545.2,390.7 543.8,388.8 546.1,388.4"/><polygon points="493.9,256.7 495.3,258.7 492.9,258.9"/><polygon points="516.1,298.0 517.6,297.0 517.7,298.8"/><polygon points="552.4,377.4 551.9,379.7 550.1,378.1"/><polygon points="510.8,305.7 509.3,306.9 509.0,305.1"/><polygon points="471.5,265.1 470.5,266.7 469.6,265.1"/><polygon points="574.1,291.3 573.2,293.6 571.6,291.7"/><polygon points="506.9,271.9 507.5,269.6 509.2,271.3"/><polygon points="459.8,380.2 460.6,378.4 461.8,380.0"/><polygon points="532.9,281.1 533.4,279.6 534.4,280.8"/><polygon points="500.6,242.1 501.5,243.8 499.5,243.7"/><polygon points="493.9,346.6 492.2,345.2 494.2,344.4"/><polygon points="445.3,345.8 444.7,343.7 446.8,344.3"/><polygon points="473.3,373.7 471.8,371.7 474.3,371.4"/><polygon points="533.2,329.6 531.4,330.2 531.8,328.3"/><polygon points="491.0,340.0 493.0,339.0 492.8,341.2"/><polygon points="460.3,274.6 461.2,273.0 462.2,274.6"/><polygon points="499.0,379.4 497.7,380.3 497.5,378.7"/><polygon points="478.4,371.9 480.2,372.0 479.3,373.5"/><polygon points="500.7,246.0 501.1,248.4 498.8,247.5"/><polygon points="484.9,360.1 483.2,361.3 483.0,359.2"/><polygon points="450.1,298.9 451.8,299.4 450.6,300.7"/><polygon points="560.6,371.1 561.3,369.1 562.7,370.7"/><polygon points="564.9,256.4 565.8,258.0 563.9,258.0"/><polygon points="509.0,393.6 510.2,392.4 510.5,394.0"/><polygon points="475.8,242.3 474.2,242.3 475.1,240.9"/><polygon points="498.7,308.8 498.1,306.8 500.1,307.3"/><polygon points="550.6,321.7 548.4,320.4 550.7,319.1"/><polygon points="521.3,316.1 521.0,318.0 519.5,316.8"/></g>
<path class="dot" d="M474.0 376.4h.7M497.0 292.5h.7M536.8 327.8h.7M485.5 253.6h.7M589.6 297.7h.7M459.2 342.2h.7M524.0 291.2h.7M492.4 371.4h.7M494.0 305.2h.7M589.8 296.4h.7M503.8 265.6h.7M544.2 343.5h.7M510.7 303.4h.7M477.6 362.9h.7M512.4 369.4h.7M499.6 354.1h.7M446.0 274.5h.7M590.4 346.2h.7M546.2 317.5h.7M514.7 271.1h.7M468.3 340.4h.7M549.0 280.6h.7M541.4 261.6h.7M536.5 267.1h.7M520.5 289.1h.7M526.9 261.3h.7M516.4 336.0h.7M462.4 288.3h.7M546.7 325.1h.7M537.1 361.3h.7M530.1 274.9h.7M510.1 369.1h.7M529.3 357.2h.7M497.9 310.0h.7M591.8 367.9h.7M542.7 257.0h.7M536.3 245.6h.7M586.3 391.1h.7M554.4 281.9h.7M572.6 267.9h.7M569.8 321.2h.7M443.9 378.4h.7M509.7 369.1h.7M548.2 323.0h.7M575.2 272.0h.7M580.8 293.0h.7M445.5 292.6h.7M451.7 251.7h.7M538.2 259.2h.7M466.3 285.8h.7M484.7 383.0h.7M581.8 375.3h.7M594.9 308.7h.7M564.8 284.0h.7M585.1 366.1h.7M555.0 275.8h.7M455.7 383.8h.7M527.1 335.4h.7M575.1 262.7h.7M549.9 312.4h.7M563.3 311.1h.7M472.0 388.6h.7M485.1 355.9h.7M570.3 278.9h.7M549.2 301.9h.7M476.2 274.2h.7M589.4 297.5h.7M520.5 318.1h.7M445.6 357.2h.7M557.0 376.2h.7M496.8 273.0h.7M495.4 353.9h.7M543.5 303.4h.7M522.8 264.4h.7M583.9 313.6h.7M520.1 362.4h.7M472.2 352.4h.7M496.3 366.3h.7M456.1 283.2h.7M540.0 315.2h.7M499.9 330.1h.7M475.3 308.2h.7M441.8 364.2h.7M480.9 369.2h.7M527.1 333.7h.7M538.5 259.9h.7M562.0 285.7h.7M575.2 362.3h.7M546.6 366.8h.7M509.2 344.8h.7M589.2 269.8h.7M457.1 304.3h.7M520.5 263.6h.7M475.8 374.7h.7M501.6 263.6h.7M469.9 330.0h.7M470.9 314.1h.7M524.8 308.6h.7M519.6 370.1h.7M444.1 384.5h.7M472.4 246.4h.7M560.5 328.8h.7M524.9 274.2h.7M562.6 288.0h.7M554.2 275.9h.7M530.3 340.9h.7M499.1 314.8h.7M451.6 340.2h.7M548.6 264.3h.7M526.9 354.1h.7M457.2 370.4h.7M576.4 248.3h.7M480.0 253.5h.7M480.7 253.9h.7M517.4 279.3h.7M488.0 312.0h.7M499.1 362.6h.7M553.5 258.2h.7M476.1 241.8h.7M492.5 257.3h.7M549.6 361.4h.7M595.8 272.9h.7M447.2 357.7h.7M505.3 384.7h.7M502.3 288.9h.7M452.8 387.3h.7M520.9 308.8h.7M509.2 359.6h.7M570.3 314.2h.7M469.1 303.4h.7M579.7 303.7h.7M543.9 327.2h.7M513.0 329.5h.7M479.5 326.8h.7M575.5 252.9h.7M498.7 376.9h.7M593.1 242.6h.7M538.7 338.4h.7M572.2 313.3h.7M461.8 287.0h.7M552.0 353.3h.7M473.2 340.0h.7M543.3 342.4h.7M444.9 308.9h.7M491.9 333.0h.7M493.7 260.4h.7M545.4 284.9h.7M564.1 287.9h.7M526.1 365.7h.7M459.4 353.8h.7M452.1 385.5h.7M445.4 352.7h.7M498.6 268.3h.7M502.7 318.2h.7M505.8 259.5h.7M522.5 287.0h.7M591.4 299.8h.7M509.0 275.8h.7M591.7 290.3h.7M541.7 369.5h.7M502.4 357.5h.7M484.7 257.5h.7M448.0 310.0h.7M577.0 271.9h.7M509.8 358.7h.7M484.3 264.1h.7M522.0 306.4h.7M587.0 379.5h.7M478.4 327.4h.7M506.0 245.7h.7M510.4 382.3h.7M488.4 331.3h.7M551.6 250.3h.7M584.7 257.4h.7M488.2 351.4h.7M444.5 298.7h.7M461.1 313.8h.7M443.9 263.9h.7M476.0 253.1h.7M455.5 270.6h.7M521.7 261.7h.7M568.8 305.1h.7M480.5 277.8h.7M571.6 247.8h.7M556.5 255.6h.7M587.9 303.7h.7M534.1 374.2h.7M457.1 250.4h.7M549.0 331.5h.7M553.3 283.5h.7M518.5 269.4h.7M509.2 284.1h.7M532.3 286.8h.7M484.1 340.0h.7M454.8 364.6h.7M518.3 276.0h.7M459.3 319.3h.7M519.6 352.0h.7M499.4 304.4h.7M579.8 282.9h.7M593.6 378.8h.7M595.0 386.6h.7M481.4 366.6h.7M536.3 272.1h.7M596.1 340.8h.7M567.0 326.9h.7M453.8 374.2h.7M468.7 280.6h.7M537.0 270.5h.7M513.2 351.0h.7M456.4 342.8h.7M457.7 314.2h.7M542.2 347.0h.7M448.2 270.1h.7M590.3 301.1h.7M507.3 298.5h.7M549.4 355.2h.7M542.3 302.8h.7M529.8 320.3h.7M470.6 387.6h.7M591.1 360.9h.7M595.3 312.6h.7M571.6 277.8h.7M556.6 351.2h.7M587.0 369.6h.7M577.8 282.0h.7M563.6 314.1h.7M489.9 297.6h.7M565.3 371.0h.7M572.4 344.2h.7M467.9 264.6h.7M529.5 273.3h.7M493.7 256.4h.7M465.5 351.6h.7M476.2 371.8h.7M492.5 372.0h.7M488.4 281.9h.7M502.7 242.4h.7M509.0 299.3h.7M443.5 374.0h.7M499.7 240.6h.7M590.4 275.9h.7M480.7 244.3h.7M456.9 350.4h.7M531.7 318.6h.7M479.7 284.9h.7M591.9 298.2h.7M594.9 377.8h.7M460.8 371.9h.7M444.8 350.6h.7M567.0 348.2h.7M526.7 366.4h.7M465.4 324.1h.7M482.7 302.3h.7M471.1 350.2h.7M530.3 361.2h.7M538.9 333.3h.7M584.4 366.4h.7M529.3 291.0h.7M585.3 298.0h.7M457.3 292.1h.7M551.0 384.8h.7M541.6 343.1h.7M586.8 361.0h.7M510.5 312.0h.7M559.2 289.7h.7M458.5 336.5h.7M566.9 279.0h.7M547.5 378.8h.7M461.3 261.5h.7M517.9 292.3h.7M588.7 394.9h.7M510.6 363.4h.7M539.4 267.4h.7M592.1 267.5h.7M453.3 310.6h.7M444.3 315.0h.7M505.4 388.3h.7M505.6 372.1h.7M562.4 331.3h.7M478.4 287.7h.7M517.7 301.7h.7M541.6 318.8h.7M491.6 334.5h.7M596.0 271.9h.7M493.5 242.4h.7M456.0 249.1h.7M507.0 370.1h.7M549.6 390.1h.7M571.2 331.3h.7M531.5 242.4h.7M500.9 281.0h.7M537.7 250.6h.7M525.6 298.7h.7M517.8 303.1h.7M457.3 353.8h.7M565.6 333.2h.7M459.4 333.3h.7M576.5 393.3h.7M559.1 247.6h.7M577.7 343.5h.7M484.4 383.0h.7M569.5 379.2h.7M479.9 329.9h.7M500.2 286.3h.7M559.5 336.0h.7M492.9 324.6h.7M585.4 328.3h.7M583.1 328.2h.7M595.3 245.0h.7M512.8 326.0h.7M554.2 390.6h.7M538.1 314.5h.7M539.8 323.1h.7M550.8 387.2h.7M443.7 290.1h.7M577.3 249.7h.7M564.0 245.3h.7M542.0 364.5h.7M478.4 299.6h.7M476.6 349.7h.7M523.5 334.3h.7M492.0 331.4h.7M589.4 361.2h.7M589.0 278.8h.7M521.5 300.2h.7M495.1 364.9h.7M468.6 327.0h.7M561.5 385.4h.7M444.4 282.4h.7M517.9 385.5h.7M466.8 370.7h.7M503.1 325.4h.7M585.3 250.5h.7M492.6 264.6h.7M462.2 287.5h.7M550.1 330.4h.7M460.4 364.6h.7M520.1 262.7h.7M568.7 367.6h.7M475.1 386.0h.7M567.1 276.0h.7M441.7 374.9h.7M569.5 255.6h.7M560.3 360.3h.7M539.7 369.5h.7M594.1 291.3h.7M570.8 383.2h.7M490.1 346.4h.7M547.6 372.0h.7M529.4 283.2h.7M480.5 324.6h.7M462.5 373.6h.7M579.3 278.0h.7M549.6 344.8h.7M460.4 361.1h.7M560.3 288.0h.7M456.7 284.2h.7M561.1 312.8h.7M567.9 265.2h.7M458.0 294.6h.7M577.9 265.6h.7M452.9 357.1h.7M455.7 343.9h.7M454.4 278.7h.7M544.4 375.8h.7M504.9 310.1h.7M446.3 293.3h.7M479.0 362.7h.7M552.2 362.0h.7M523.9 348.8h.7M461.2 300.1h.7M486.9 284.2h.7M556.1 273.7h.7M491.9 284.2h.7M575.4 339.4h.7M516.0 299.3h.7M584.4 386.0h.7M511.2 328.3h.7M575.2 280.2h.7M481.6 256.5h.7M519.3 359.5h.7M465.8 307.5h.7M595.0 315.0h.7M500.8 370.5h.7M579.8 298.8h.7M460.6 339.1h.7M556.3 383.5h.7M543.8 288.2h.7M521.3 285.1h.7M510.6 313.0h.7M582.9 380.8h.7M585.1 314.5h.7M591.0 262.0h.7M584.3 339.7h.7M576.7 304.5h.7M595.1 244.4h.7M572.9 367.4h.7M499.5 368.9h.7M474.6 357.1h.7M514.1 304.2h.7M472.0 364.4h.7M554.8 254.3h.7M593.1 274.8h.7M499.7 304.7h.7M530.9 378.4h.7M588.0 338.6h.7M498.2 257.1h.7M452.2 320.9h.7M531.9 309.8h.7M593.8 304.6h.7M495.9 305.3h.7M468.1 386.0h.7M533.1 324.6h.7M507.5 279.2h.7M490.4 317.0h.7M510.7 392.2h.7M528.8 272.6h.7M449.8 265.2h.7M495.1 361.7h.7M579.3 277.1h.7M562.4 308.9h.7M524.8 323.0h.7M448.1 250.8h.7M545.0 347.2h.7M500.5 382.9h.7M568.6 287.3h.7M451.9 326.2h.7M542.9 275.3h.7M448.3 316.0h.7M446.8 354.6h.7M538.5 283.7h.7M510.6 276.6h.7M470.3 268.6h.7M567.9 310.7h.7M552.4 294.3h.7M566.6 332.8h.7M542.9 301.3h.7M528.6 270.0h.7M592.4 344.6h.7M524.0 339.4h.7M457.0 292.3h.7M477.3 371.1h.7M443.5 309.4h.7M576.1 361.7h.7M552.9 287.2h.7M477.5 349.6h.7M487.8 352.5h.7M495.7 358.3h.7M530.3 366.8h.7M594.3 299.1h.7M594.4 242.0h.7M577.5 245.1h.7M526.0 300.6h.7M560.8 289.3h.7M473.8 362.0h.7M526.8 357.5h.7M517.3 246.2h.7M561.0 274.3h.7M514.6 240.6h.7M481.6 343.6h.7M559.9 339.1h.7M510.2 354.0h.7M545.2 272.4h.7M524.4 333.1h.7M554.5 271.1h.7M489.7 293.6h.7M456.4 294.5h.7M554.6 330.0h.7M468.3 353.8h.7M459.6 356.9h.7M464.4 255.4h.7M480.5 320.3h.7M483.4 377.4h.7M586.9 284.4h.7M557.7 348.2h.7M528.5 280.0h.7M588.7 388.7h.7M443.5 291.6h.7M491.3 271.2h.7M508.2 379.6h.7M445.2 370.0h.7M489.4 242.6h.7M581.0 282.7h.7M474.4 258.6h.7M498.4 259.0h.7M469.4 279.2h.7M531.1 309.6h.7M488.8 322.0h.7M561.5 352.7h.7M494.7 382.7h.7M564.1 327.5h.7M515.2 291.6h.7M462.3 377.7h.7M535.8 255.8h.7M585.0 377.9h.7M446.7 349.0h.7M478.4 323.5h.7M570.8 294.8h.7M518.7 343.6h.7M471.3 337.5h.7M507.4 392.7h.7M470.6 350.6h.7M447.9 283.0h.7M459.7 263.6h.7M523.4 267.5h.7M564.7 255.4h.7M538.1 373.9h.7M461.1 274.2h.7M560.1 313.3h.7M586.0 292.8h.7M503.2 388.8h.7M494.8 390.2h.7M579.6 271.5h.7M526.1 386.3h.7M459.7 372.0h.7M561.5 356.6h.7M534.6 256.0h.7M590.1 256.4h.7M563.0 352.5h.7M490.7 346.6h.7M505.1 356.8h.7M448.2 385.1h.7M501.1 364.9h.7M514.6 366.3h.7M488.2 324.9h.7M445.4 316.3h.7M453.8 373.6h.7M546.5 306.3h.7M592.5 387.2h.7M589.8 253.3h.7M550.6 353.2h.7M535.4 242.9h.7M584.7 308.4h.7M533.7 366.7h.7M484.2 245.0h.7M584.6 282.4h.7M447.9 261.7h.7M595.7 355.1h.7M474.0 263.2h.7M580.6 343.5h.7M531.9 260.8h.7M505.6 387.1h.7M442.0 305.4h.7M450.3 395.1h.7M457.7 388.2h.7M571.9 353.8h.7M448.1 348.2h.7M517.9 316.6h.7M464.0 319.8h.7M565.8 260.9h.7M577.3 305.5h.7M482.8 277.6h.7M512.8 340.8h.7M529.8 378.4h.7M520.8 319.9h.7M594.8 273.8h.7M444.1 291.4h.7M490.0 259.7h.7M506.3 245.9h.7M584.2 315.5h.7M577.7 348.5h.7M554.6 358.0h.7M488.3 353.4h.7M473.4 326.4h.7M533.8 360.6h.7M467.5 293.8h.7M569.3 365.1h.7M593.1 258.8h.7M474.1 257.0h.7M553.7 356.0h.7M542.0 361.2h.7M521.5 327.6h.7M584.3 340.9h.7M543.2 331.7h.7M518.1 357.7h.7M530.3 260.5h.7M507.5 305.8h.7M508.5 327.4h.7M497.6 301.1h.7M507.7 298.0h.7M592.1 254.5h.7M444.1 352.3h.7M502.8 310.0h.7M533.2 297.3h.7M478.6 242.9h.7M576.9 386.0h.7M485.8 312.6h.7M491.7 249.5h.7M579.9 370.1h.7M478.9 280.0h.7M549.7 363.9h.7M514.3 300.5h.7M477.7 364.2h.7M575.3 373.4h.7M459.2 332.5h.7M594.2 351.3h.7M512.7 263.0h.7M450.9 353.9h.7M452.1 365.8h.7M544.7 313.8h.7M579.7 385.0h.7M537.1 255.9h.7M532.7 305.7h.7M480.2 384.4h.7M554.7 259.4h.7M477.0 293.6h.7M530.3 290.8h.7M509.6 366.5h.7M469.7 352.0h.7M492.7 386.8h.7M589.0 291.2h.7M535.4 257.7h.7M505.1 337.0h.7M540.4 293.6h.7M446.8 259.7h.7M528.4 267.0h.7M488.9 336.3h.7M581.1 320.3h.7M481.0 331.3h.7M484.2 361.7h.7M465.7 281.1h.7M509.5 381.2h.7M467.1 270.3h.7M461.9 273.6h.7M493.0 301.7h.7M559.2 303.0h.7M515.1 301.9h.7M561.5 380.4h.7M507.5 383.2h.7M480.4 392.0h.7M522.9 346.1h.7M500.6 282.6h.7M462.4 377.6h.7M497.2 348.7h.7M512.9 322.1h.7M473.6 267.9h.7M493.6 346.1h.7M525.7 240.9h.7M551.7 307.6h.7M452.2 280.8h.7M474.3 368.0h.7M526.8 291.1h.7M480.0 285.6h.7M484.9 294.1h.7M564.1 362.6h.7M549.7 377.6h.7M542.9 258.1h.7M448.4 266.0h.7M481.5 322.3h.7M568.9 331.2h.7M508.1 278.0h.7M593.7 357.2h.7M494.4 247.6h.7M593.7 280.2h.7M572.9 258.7h.7M542.7 295.7h.7M579.3 286.5h.7M457.1 271.3h.7M566.4 392.1h.7M541.2 346.1h.7M485.2 282.7h.7M454.9 393.0h.7M448.2 335.4h.7M495.7 269.4h.7M509.1 384.7h.7M479.9 266.0h.7M539.1 342.3h.7M520.7 268.3h.7M577.0 257.7h.7M468.5 277.9h.7M521.1 314.3h.7M527.3 353.1h.7M580.1 313.0h.7M448.0 369.2h.7M444.4 289.8h.7M463.7 333.8h.7M562.7 260.5h.7"/>
<line class="l" x1="645.75" y1="328" x2="750" y2="328"/>
<polygon class="ah" points="749.3,324.2 756.3,328 749.3,332"/>
<clipPath id="cw"><path clip-rule="evenodd" d="M66.1 669.5H77.9V690.4H226.3V669.5H238.5V757.88A127.8 127.8 0 0 1 66.1 758.43ZM78.3 702.2H116.5V774.34A116.1 116.1 0 0 1 78.3 753.51ZM125.7 702.2H179.4V776.62A116.1 116.1 0 0 1 125.7 776.88ZM188.7 702.2H226.3V753.01A116.1 116.1 0 0 1 188.7 773.95Z"/></clipPath>
<path class="hw" clip-path="url(#cw)" d="M-143.38 805L1.62 660M-136.69 805L8.31 660M-130.00 805L15.00 660M-123.31 805L21.69 660M-116.62 805L28.38 660M-109.93 805L35.07 660M-103.24 805L41.76 660M-96.55 805L48.45 660M-89.86 805L55.14 660M-83.17 805L61.83 660M-76.48 805L68.52 660M-69.79 805L75.21 660M-63.10 805L81.90 660M-56.41 805L88.59 660M-49.72 805L95.28 660M-43.03 805L101.97 660M-36.34 805L108.66 660M-29.65 805L115.35 660M-22.96 805L122.04 660M-16.27 805L128.73 660M-9.58 805L135.42 660M-2.89 805L142.11 660M3.80 805L148.80 660M10.49 805L155.49 660M17.18 805L162.18 660M23.87 805L168.87 660M30.56 805L175.56 660M37.25 805L182.25 660M43.94 805L188.94 660M50.63 805L195.63 660M57.32 805L202.32 660M64.01 805L209.01 660M70.70 805L215.70 660M77.39 805L222.39 660M84.08 805L229.08 660M90.77 805L235.77 660M97.46 805L242.46 660M104.15 805L249.15 660M110.84 805L255.84 660M117.53 805L262.53 660M124.22 805L269.22 660M130.91 805L275.91 660M137.60 805L282.60 660M144.29 805L289.29 660M150.98 805L295.98 660M157.67 805L302.67 660M164.36 805L309.36 660M171.05 805L316.05 660M177.74 805L322.74 660M184.43 805L329.43 660M191.12 805L336.12 660M197.81 805L342.81 660M204.50 805L349.50 660M211.19 805L356.19 660M217.88 805L362.88 660M224.57 805L369.57 660M231.26 805L376.26 660M237.95 805L382.95 660M244.64 805L389.64 660M251.33 805L396.33 660M258.02 805L403.02 660M264.71 805L409.71 660M271.40 805L416.40 660M278.09 805L423.09 660M284.78 805L429.78 660M291.47 805L436.47 660"/>
<path class="wood" fill-rule="evenodd" d="M66.1 669.5H77.9V690.4H226.3V669.5H238.5V757.88A127.8 127.8 0 0 1 66.1 758.43ZM78.3 702.2H116.5V774.34A116.1 116.1 0 0 1 78.3 753.51ZM125.7 702.2H179.4V776.62A116.1 116.1 0 0 1 125.7 776.88ZM188.7 702.2H226.3V753.01A116.1 116.1 0 0 1 188.7 773.95Z"/>
<clipPath id="cs"><path d="M66.1 758.43A127.8 127.8 0 0 0 238.5 757.88L244.5 756.74A159 159 0 0 0 432.05 764.53A159 159 0 0 0 608.00 765.16A123.5 123.5 0 0 0 772.65 755.6H793.5V762.21A143.3 143.3 0 0 1 607.25 788.97A179 179 0 0 1 432.05 788.02A179 179 0 0 1 243.17 780.57A149.6 149.6 0 0 1 52.11 772.33Z"/></clipPath>
<path class="hs" clip-path="url(#cs)" d="M-65.00 805L-10.00 750M-59.70 805L-4.70 750M-54.40 805L0.60 750M-49.10 805L5.90 750M-43.80 805L11.20 750M-38.50 805L16.50 750M-33.20 805L21.80 750M-27.90 805L27.10 750M-22.60 805L32.40 750M-17.30 805L37.70 750M-12.00 805L43.00 750M-6.70 805L48.30 750M-1.40 805L53.60 750M3.90 805L58.90 750M9.20 805L64.20 750M14.50 805L69.50 750M19.80 805L74.80 750M25.10 805L80.10 750M30.40 805L85.40 750M35.70 805L90.70 750M41.00 805L96.00 750M46.30 805L101.30 750M51.60 805L106.60 750M56.90 805L111.90 750M62.20 805L117.20 750M67.50 805L122.50 750M72.80 805L127.80 750M78.10 805L133.10 750M83.40 805L138.40 750M88.70 805L143.70 750M94.00 805L149.00 750M99.30 805L154.30 750M104.60 805L159.60 750M109.90 805L164.90 750M115.20 805L170.20 750M120.50 805L175.50 750M125.80 805L180.80 750M131.10 805L186.10 750M136.40 805L191.40 750M141.70 805L196.70 750M147.00 805L202.00 750M152.30 805L207.30 750M157.60 805L212.60 750M162.90 805L217.90 750M168.20 805L223.20 750M173.50 805L228.50 750M178.80 805L233.80 750M184.10 805L239.10 750M189.40 805L244.40 750M194.70 805L249.70 750M200.00 805L255.00 750M205.30 805L260.30 750M210.60 805L265.60 750M215.90 805L270.90 750M221.20 805L276.20 750M226.50 805L281.50 750M231.80 805L286.80 750M237.10 805L292.10 750M242.40 805L297.40 750M247.70 805L302.70 750M253.00 805L308.00 750M258.30 805L313.30 750M263.60 805L318.60 750M268.90 805L323.90 750M274.20 805L329.20 750M279.50 805L334.50 750M284.80 805L339.80 750M290.10 805L345.10 750M295.40 805L350.40 750M300.70 805L355.70 750M306.00 805L361.00 750M311.30 805L366.30 750M316.60 805L371.60 750M321.90 805L376.90 750M327.20 805L382.20 750M332.50 805L387.50 750M337.80 805L392.80 750M343.10 805L398.10 750M348.40 805L403.40 750M353.70 805L408.70 750M359.00 805L414.00 750M364.30 805L419.30 750M369.60 805L424.60 750M374.90 805L429.90 750M380.20 805L435.20 750M385.50 805L440.50 750M390.80 805L445.80 750M396.10 805L451.10 750M401.40 805L456.40 750M406.70 805L461.70 750M412.00 805L467.00 750M417.30 805L472.30 750M422.60 805L477.60 750M427.90 805L482.90 750M433.20 805L488.20 750M438.50 805L493.50 750M443.80 805L498.80 750M449.10 805L504.10 750M454.40 805L509.40 750M459.70 805L514.70 750M465.00 805L520.00 750M470.30 805L525.30 750M475.60 805L530.60 750M480.90 805L535.90 750M486.20 805L541.20 750M491.50 805L546.50 750M496.80 805L551.80 750M502.10 805L557.10 750M507.40 805L562.40 750M512.70 805L567.70 750M518.00 805L573.00 750M523.30 805L578.30 750M528.60 805L583.60 750M533.90 805L588.90 750M539.20 805L594.20 750M544.50 805L599.50 750M549.80 805L604.80 750M555.10 805L610.10 750M560.40 805L615.40 750M565.70 805L620.70 750M571.00 805L626.00 750M576.30 805L631.30 750M581.60 805L636.60 750M586.90 805L641.90 750M592.20 805L647.20 750M597.50 805L652.50 750M602.80 805L657.80 750M608.10 805L663.10 750M613.40 805L668.40 750M618.70 805L673.70 750M624.00 805L679.00 750M629.30 805L684.30 750M634.60 805L689.60 750M639.90 805L694.90 750M645.20 805L700.20 750M650.50 805L705.50 750M655.80 805L710.80 750M661.10 805L716.10 750M666.40 805L721.40 750M671.70 805L726.70 750M677.00 805L732.00 750M682.30 805L737.30 750M687.60 805L742.60 750M692.90 805L747.90 750M698.20 805L753.20 750M703.50 805L758.50 750M708.80 805L763.80 750M714.10 805L769.10 750M719.40 805L774.40 750M724.70 805L779.70 750M730.00 805L785.00 750M735.30 805L790.30 750M740.60 805L795.60 750M745.90 805L800.90 750M751.20 805L806.20 750M756.50 805L811.50 750M761.80 805L816.80 750M767.10 805L822.10 750M772.40 805L827.40 750M777.70 805L832.70 750M783.00 805L838.00 750M788.30 805L843.30 750M793.60 805L848.60 750M798.90 805L853.90 750M804.20 805L859.20 750M809.50 805L864.50 750M814.80 805L869.80 750M820.10 805L875.10 750M825.40 805L880.40 750M830.70 805L885.70 750M-30.00 750L25.00 805M-24.70 750L30.30 805M-19.40 750L35.60 805M-14.10 750L40.90 805M-8.80 750L46.20 805M-3.50 750L51.50 805M1.80 750L56.80 805M7.10 750L62.10 805M12.40 750L67.40 805M17.70 750L72.70 805M23.00 750L78.00 805M28.30 750L83.30 805M33.60 750L88.60 805M38.90 750L93.90 805M44.20 750L99.20 805M49.50 750L104.50 805M54.80 750L109.80 805M60.10 750L115.10 805M65.40 750L120.40 805M70.70 750L125.70 805M76.00 750L131.00 805M81.30 750L136.30 805M86.60 750L141.60 805M91.90 750L146.90 805M97.20 750L152.20 805M102.50 750L157.50 805M107.80 750L162.80 805M113.10 750L168.10 805M118.40 750L173.40 805M123.70 750L178.70 805M129.00 750L184.00 805M134.30 750L189.30 805M139.60 750L194.60 805M144.90 750L199.90 805M150.20 750L205.20 805M155.50 750L210.50 805M160.80 750L215.80 805M166.10 750L221.10 805M171.40 750L226.40 805M176.70 750L231.70 805M182.00 750L237.00 805M187.30 750L242.30 805M192.60 750L247.60 805M197.90 750L252.90 805M203.20 750L258.20 805M208.50 750L263.50 805M213.80 750L268.80 805M219.10 750L274.10 805M224.40 750L279.40 805M229.70 750L284.70 805M235.00 750L290.00 805M240.30 750L295.30 805M245.60 750L300.60 805M250.90 750L305.90 805M256.20 750L311.20 805M261.50 750L316.50 805M266.80 750L321.80 805M272.10 750L327.10 805M277.40 750L332.40 805M282.70 750L337.70 805M288.00 750L343.00 805M293.30 750L348.30 805M298.60 750L353.60 805M303.90 750L358.90 805M309.20 750L364.20 805M314.50 750L369.50 805M319.80 750L374.80 805M325.10 750L380.10 805M330.40 750L385.40 805M335.70 750L390.70 805M341.00 750L396.00 805M346.30 750L401.30 805M351.60 750L406.60 805M356.90 750L411.90 805M362.20 750L417.20 805M367.50 750L422.50 805M372.80 750L427.80 805M378.10 750L433.10 805M383.40 750L438.40 805M388.70 750L443.70 805M394.00 750L449.00 805M399.30 750L454.30 805M404.60 750L459.60 805M409.90 750L464.90 805M415.20 750L470.20 805M420.50 750L475.50 805M425.80 750L480.80 805M431.10 750L486.10 805M436.40 750L491.40 805M441.70 750L496.70 805M447.00 750L502.00 805M452.30 750L507.30 805M457.60 750L512.60 805M462.90 750L517.90 805M468.20 750L523.20 805M473.50 750L528.50 805M478.80 750L533.80 805M484.10 750L539.10 805M489.40 750L544.40 805M494.70 750L549.70 805M500.00 750L555.00 805M505.30 750L560.30 805M510.60 750L565.60 805M515.90 750L570.90 805M521.20 750L576.20 805M526.50 750L581.50 805M531.80 750L586.80 805M537.10 750L592.10 805M542.40 750L597.40 805M547.70 750L602.70 805M553.00 750L608.00 805M558.30 750L613.30 805M563.60 750L618.60 805M568.90 750L623.90 805M574.20 750L629.20 805M579.50 750L634.50 805M584.80 750L639.80 805M590.10 750L645.10 805M595.40 750L650.40 805M600.70 750L655.70 805M606.00 750L661.00 805M611.30 750L666.30 805M616.60 750L671.60 805M621.90 750L676.90 805M627.20 750L682.20 805M632.50 750L687.50 805M637.80 750L692.80 805M643.10 750L698.10 805M648.40 750L703.40 805M653.70 750L708.70 805M659.00 750L714.00 805M664.30 750L719.30 805M669.60 750L724.60 805M674.90 750L729.90 805M680.20 750L735.20 805M685.50 750L740.50 805M690.80 750L745.80 805M696.10 750L751.10 805M701.40 750L756.40 805M706.70 750L761.70 805M712.00 750L767.00 805M717.30 750L772.30 805M722.60 750L777.60 805M727.90 750L782.90 805M733.20 750L788.20 805M738.50 750L793.50 805M743.80 750L798.80 805M749.10 750L804.10 805M754.40 750L809.40 805M759.70 750L814.70 805M765.00 750L820.00 805M770.30 750L825.30 805M775.60 750L830.60 805M780.90 750L835.90 805M786.20 750L841.20 805M791.50 750L846.50 805M796.80 750L851.80 805M802.10 750L857.10 805M807.40 750L862.40 805"/>
<path class="soil" d="M66.1 758.43A127.8 127.8 0 0 0 238.5 757.88L244.5 756.74A159 159 0 0 0 432.05 764.53A159 159 0 0 0 608.00 765.16A123.5 123.5 0 0 0 772.65 755.6H793.5V762.21A143.3 143.3 0 0 1 607.25 788.97A179 179 0 0 1 432.05 788.02A179 179 0 0 1 243.17 780.57A149.6 149.6 0 0 1 52.11 772.33Z"/>
<path class="l" d="M249.3 599.8V676.8M261.8 599.8V676.8"/>
<path class="l" d="M244.5 756.74V676.8H264.6V746.07A135.7 135.7 0 0 0 423.5 746.15V674.3H440.8V745.86A135.7 135.7 0 0 0 600.5 745.78V671.6H617.4V746.31A103 103 0 0 0 753.7 745.34V687.8H776.6V674.3H793.3V755.6"/>
<path class="l" d="M426.2 596.8V674.3M438.5 596.8V674.3"/>
<path class="l" d="M602.3 593.8V671.6M614.3 593.8V671.6"/>
<path class="l" d="M779.4 595V674.3M791.2 595V674.3"/>
<line class="l" x1="133.25" y1="636" x2="133.25" y2="684"/>
<polygon class="ah" points="128.8,683 137.6,683 133.2,690.3"/>
<line class="l" x1="762.4" y1="627" x2="762.4" y2="677"/>
<polygon class="ah" points="757.6,676.3 767.2,676.3 762.4,684"/>
<g style="filter:grayscale(1)">
<text y="111"><tspan x="284.5" textLength="44.4" lengthAdjust="spacingAndGlyphs">LOSADE</tspan> <tspan x="331.8" textLength="84.1" lengthAdjust="spacingAndGlyphs">CIMENTACION</tspan></text>
<text y="126"><tspan x="284.5" textLength="26.9" lengthAdjust="spacingAndGlyphs">TIPO</tspan> <tspan x="314.8" textLength="3.6" lengthAdjust="spacingAndGlyphs">:</tspan></text>
<text y="141"><tspan x="284.5" textLength="45.3" lengthAdjust="spacingAndGlyphs">BOVEDA</tspan> <tspan x="333" textLength="64.2" lengthAdjust="spacingAndGlyphs">INVERTIDA</tspan></text>
<text y="271.3"><tspan x="641.8" textLength="83.5" lengthAdjust="spacingAndGlyphs">CONTRATRABE</tspan> <tspan x="727.4" textLength="14.4" lengthAdjust="spacingAndGlyphs">DE</tspan></text>
<text y="286.3"><tspan x="642.1" textLength="39.7" lengthAdjust="spacingAndGlyphs">VOLTEO</tspan> <tspan x="687.35" textLength="12.45" lengthAdjust="spacingAndGlyphs">EN</tspan> <tspan x="705.35" textLength="43.2" lengthAdjust="spacingAndGlyphs">COLIN-</tspan></text>
<text y="301.3"><tspan x="642.35" textLength="47.7" lengthAdjust="spacingAndGlyphs">DANCIA.</tspan></text>
<text y="519"><tspan x="235.6" textLength="73.2" lengthAdjust="spacingAndGlyphs">ESTRUCTURA</tspan> <tspan x="312.6" textLength="37.6" lengthAdjust="spacingAndGlyphs">HASTA</tspan> <tspan x="352.6" textLength="7.2" lengthAdjust="spacingAndGlyphs">7</tspan> <tspan x="364.6" textLength="49.2" lengthAdjust="spacingAndGlyphs">NIVELES</tspan></text>
<text y="538.75"><tspan x="179" textLength="12.8" lengthAdjust="spacingAndGlyphs">SI</tspan> <tspan x="195.6" textLength="17.2" lengthAdjust="spacingAndGlyphs">NO</tspan> <tspan x="217" textLength="12.8" lengthAdjust="spacingAndGlyphs">SE</tspan> <tspan x="233.6" textLength="33.2" lengthAdjust="spacingAndGlyphs">OCUPA</tspan> <tspan x="272" textLength="11.8" lengthAdjust="spacingAndGlyphs">EL</tspan> <tspan x="288.6" textLength="53.2" lengthAdjust="spacingAndGlyphs">TERRENO</tspan> <tspan x="345.6" textLength="42.2" lengthAdjust="spacingAndGlyphs">TIENDE</tspan> <tspan x="392" textLength="7.8" lengthAdjust="spacingAndGlyphs">A</tspan> <tspan x="403.6" textLength="52.2" lengthAdjust="spacingAndGlyphs">BUFARSE.</tspan></text>
<text y="603"><tspan x="45.85" textLength="43.7" lengthAdjust="spacingAndGlyphs">CIMBRA</tspan> <tspan x="93.35" textLength="14.45" lengthAdjust="spacingAndGlyphs">DE</tspan> <tspan x="111.6" textLength="45.45" lengthAdjust="spacingAndGlyphs">MADERA</tspan> <tspan x="160.85" textLength="27.45" lengthAdjust="spacingAndGlyphs">PARA</tspan> <tspan x="192.1" textLength="14.95" lengthAdjust="spacingAndGlyphs">LA</tspan></text>
<text y="618"><tspan x="45.85" textLength="74.45" lengthAdjust="spacingAndGlyphs">EXCAVACION</tspan> <tspan x="122.9" textLength="6.65" lengthAdjust="spacingAndGlyphs">Y</tspan> <tspan x="133.35" textLength="98.7" lengthAdjust="spacingAndGlyphs">CONSOLIDACION</tspan></text>
<text y="633"><tspan x="45.85" textLength="7.45" lengthAdjust="spacingAndGlyphs">Y</tspan> <tspan x="56.6" textLength="40.45" lengthAdjust="spacingAndGlyphs">EVITAR</tspan> <tspan x="100.85" textLength="86.2" lengthAdjust="spacingAndGlyphs">BUFAMIENTOS.</tspan></text>
<text y="607.8"><tspan x="449.2" textLength="29.2" lengthAdjust="spacingAndGlyphs">LOSA</tspan> <tspan x="481.6" textLength="83.8" lengthAdjust="spacingAndGlyphs">CIMENTACION</tspan></text>
<text y="622.9"><tspan x="449.2" textLength="50.2" lengthAdjust="spacingAndGlyphs">BOVEDAS</tspan> <tspan x="502.6" textLength="9.1" lengthAdjust="spacingAndGlyphs">O</tspan> <tspan x="515.7" textLength="38.5" lengthAdjust="spacingAndGlyphs">ARCOS</tspan></text>
<text y="637.8"><tspan x="449.2" textLength="72.45" lengthAdjust="spacingAndGlyphs">INVERTIDOS</tspan></text>
<text y="609.7"><tspan x="673.6" textLength="82.95" lengthAdjust="spacingAndGlyphs">CONTRATRABE</tspan> <tspan x="759.1" textLength="14.4" lengthAdjust="spacingAndGlyphs">DE</tspan></text>
<text y="624.3"><tspan x="673.9" textLength="44.4" lengthAdjust="spacingAndGlyphs">VOLTEO</tspan></text>
</g>
</svg>
</body></html>
